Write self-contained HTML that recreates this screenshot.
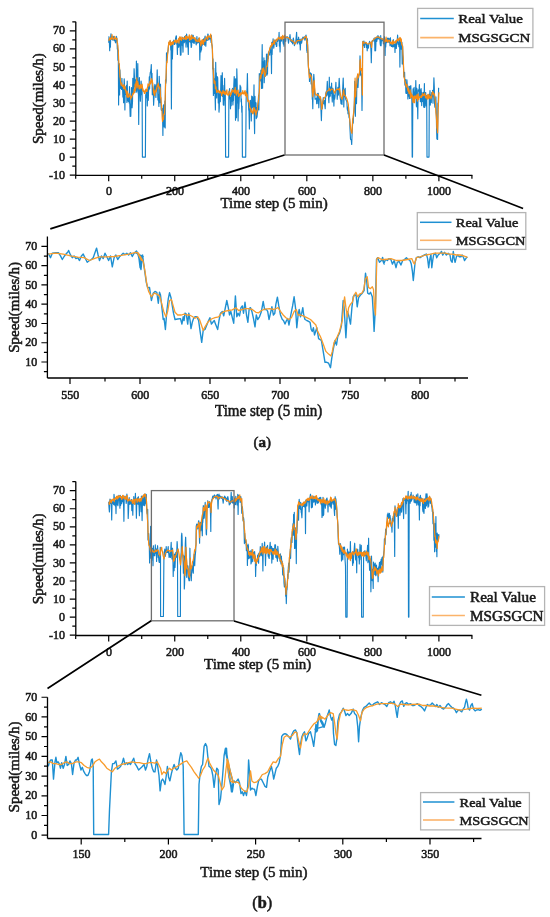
<!DOCTYPE html>
<html><head><meta charset="utf-8"><title>Figure</title>
<style>html,body{margin:0;padding:0;background:#fff;} svg{display:block;} text{fill:#1a1a1a;stroke:#1a1a1a;stroke-width:0.55px;}</style>
</head><body>
<svg width="550" height="917" viewBox="0 0 550 917" style="font-family:'Liberation Serif','Times New Roman',serif">
<rect width="550" height="917" fill="#fff"/>
<polyline points="108.7,42.7 109.0,36.7 109.4,43.0 109.7,50.7 110.0,39.0 110.4,47.2 110.7,36.7 111.0,33.8 111.3,38.1 111.7,39.4 112.0,36.5 112.3,39.1 112.7,36.9 113.0,40.3 113.3,36.3 113.7,39.0 114.0,39.8 114.3,37.3 114.6,40.7 115.0,40.3 115.3,42.0 115.6,42.8 116.0,40.6 116.3,36.4 116.6,37.1 117.0,40.0 117.3,49.1 117.6,45.3 117.9,60.3 118.3,50.2 118.6,105.0 118.9,74.3 119.3,63.7 119.6,95.0 119.9,69.9 120.3,77.7 120.6,83.6 120.9,88.5 121.2,86.0 121.6,89.5 121.9,78.3 122.2,89.0 122.6,89.8 122.9,97.1 123.2,87.2 123.6,102.7 123.9,89.3 124.2,78.8 124.5,85.5 124.9,110.0 125.2,86.7 125.5,89.9 125.9,92.1 126.2,94.3 126.5,85.3 126.9,102.4 127.2,81.1 127.5,93.4 127.9,101.0 128.2,99.3 128.5,101.5 128.8,94.5 129.2,102.9 129.5,86.5 129.8,104.2 130.2,116.4 130.5,104.4 130.8,116.2 131.2,98.1 131.5,87.5 131.8,90.5 132.1,107.8 132.5,101.9 132.8,78.4 133.1,90.9 133.5,93.0 133.8,82.6 134.1,68.7 134.5,77.8 134.8,86.9 135.1,83.6 135.4,79.9 135.8,89.7 136.1,92.4 136.4,61.0 136.8,91.2 137.1,83.8 137.4,83.1 137.8,63.5 138.1,92.9 138.4,87.0 138.7,124.5 139.1,83.3 139.4,77.6 139.7,91.3 140.1,94.0 140.4,101.2 140.7,94.5 141.1,81.1 141.4,85.3 141.7,94.7 142.1,89.4 142.4,157.1 142.7,157.1 143.0,157.1 143.4,157.1 143.7,157.1 144.0,157.1 144.4,157.1 144.7,157.1 145.0,157.1 145.4,157.1 145.7,94.6 146.0,98.1 146.3,90.9 146.7,89.9 147.0,90.2 147.3,105.9 147.7,89.6 148.0,95.4 148.3,100.3 148.7,84.3 149.0,89.8 149.3,76.9 149.6,88.8 150.0,75.4 150.3,72.4 150.6,72.1 151.0,69.2 151.3,64.5 151.6,82.0 152.0,73.3 152.3,94.8 152.6,82.4 152.9,90.8 153.3,91.1 153.6,105.2 153.9,99.3 154.3,93.2 154.6,86.4 154.9,84.3 155.3,92.9 155.6,92.8 155.9,97.5 156.2,85.2 156.6,90.0 156.9,81.2 157.2,69.8 157.6,86.1 157.9,100.0 158.2,94.5 158.6,100.3 158.9,106.5 159.2,76.3 159.6,86.4 159.9,102.6 160.2,85.7 160.5,84.2 160.9,102.8 161.2,109.6 161.5,110.5 161.9,108.9 162.2,109.6 162.5,108.7 162.9,135.5 163.2,108.4 163.5,104.8 163.8,109.2 164.2,126.9 164.5,112.3 164.8,101.2 165.2,128.0 165.5,79.9 165.8,83.5 166.2,80.6 166.5,52.9 166.8,56.4 167.1,56.9 167.5,53.6 167.8,51.7 168.1,50.1 168.5,45.4 168.8,45.3 169.1,42.5 169.5,43.9 169.8,42.2 170.1,40.8 170.4,41.2 170.8,50.0 171.1,47.9 171.4,109.0 171.8,43.6 172.1,46.8 172.4,58.9 172.8,46.8 173.1,42.5 173.4,43.4 173.7,40.2 174.1,41.6 174.4,44.5 174.7,44.2 175.1,43.7 175.4,39.6 175.7,37.8 176.1,36.1 176.4,35.9 176.7,43.8 177.1,45.2 177.4,54.5 177.7,41.1 178.0,45.8 178.4,44.2 178.7,47.3 179.0,45.9 179.4,40.1 179.7,43.5 180.0,38.5 180.4,55.2 180.7,40.7 181.0,55.0 181.3,39.4 181.7,39.7 182.0,45.1 182.3,37.2 182.7,45.9 183.0,52.1 183.3,39.8 183.7,40.0 184.0,41.5 184.3,42.8 184.6,36.6 185.0,41.6 185.3,36.3 185.6,35.7 186.0,47.1 186.3,41.9 186.6,34.1 187.0,38.1 187.3,41.7 187.6,46.9 187.9,39.4 188.3,54.5 188.6,38.4 188.9,37.7 189.3,41.7 189.6,39.2 189.9,38.8 190.3,42.2 190.6,40.2 190.9,42.8 191.2,47.5 191.6,45.8 191.9,34.8 192.2,42.4 192.6,42.0 192.9,40.4 193.2,35.4 193.6,42.9 193.9,37.7 194.2,43.4 194.6,40.2 194.9,39.2 195.2,41.2 195.5,39.1 195.9,43.1 196.2,44.9 196.5,42.8 196.9,36.5 197.2,43.2 197.5,39.8 197.9,41.7 198.2,42.6 198.5,40.4 198.8,38.0 199.2,42.5 199.5,39.9 199.8,60.0 200.2,47.1 200.5,41.0 200.8,52.0 201.2,46.0 201.5,49.9 201.8,41.7 202.1,45.6 202.5,44.2 202.8,40.3 203.1,40.1 203.5,38.8 203.8,41.0 204.1,42.5 204.5,45.2 204.8,37.6 205.1,36.0 205.4,39.5 205.8,46.1 206.1,40.8 206.4,38.1 206.8,40.4 207.1,39.7 207.4,40.3 207.8,34.0 208.1,34.2 208.4,39.1 208.8,40.0 209.1,37.9 209.4,38.9 209.7,38.9 210.1,36.0 210.4,36.2 210.7,38.4 211.1,42.5 211.4,35.6 211.7,43.5 212.1,45.8 212.4,49.2 212.7,68.9 213.0,58.7 213.4,95.5 213.7,68.3 214.0,79.8 214.4,93.5 214.7,78.8 215.0,92.3 215.4,110.0 215.7,62.4 216.0,82.1 216.3,72.8 216.7,98.0 217.0,77.2 217.3,76.7 217.7,77.7 218.0,92.1 218.3,102.9 218.7,93.7 219.0,112.1 219.3,107.7 219.6,91.6 220.0,101.5 220.3,101.7 220.6,93.8 221.0,75.5 221.3,81.3 221.6,93.5 222.0,82.3 222.3,72.7 222.6,96.5 222.9,85.4 223.3,104.8 223.6,96.0 223.9,105.3 224.3,92.2 224.6,78.4 224.9,99.8 225.3,90.9 225.6,157.1 225.9,157.1 226.3,157.1 226.6,157.1 226.9,157.1 227.2,157.1 227.6,157.1 227.9,157.1 228.2,157.1 228.6,157.1 228.9,91.8 229.2,91.6 229.6,88.5 229.9,98.9 230.2,97.1 230.5,108.8 230.9,97.0 231.2,105.7 231.5,94.0 231.9,101.2 232.2,91.5 232.5,88.3 232.9,105.0 233.2,99.5 233.5,100.5 233.8,85.2 234.2,76.5 234.5,84.3 234.8,95.2 235.2,79.0 235.5,120.3 235.8,78.9 236.2,98.4 236.5,117.7 236.8,68.8 237.1,78.9 237.5,102.9 237.8,92.5 238.1,121.0 238.5,94.0 238.8,108.7 239.1,102.0 239.5,92.0 239.8,94.2 240.1,85.2 240.4,95.0 240.8,86.9 241.1,101.8 241.4,98.8 241.8,112.2 242.1,106.0 242.4,157.1 242.8,157.1 243.1,157.1 243.4,157.1 243.8,157.1 244.1,157.1 244.4,157.1 244.7,157.1 245.1,157.1 245.4,157.1 245.7,157.1 246.1,101.7 246.4,91.8 246.7,96.1 247.1,87.0 247.4,73.5 247.7,91.0 248.0,100.1 248.4,102.5 248.7,109.7 249.0,111.2 249.4,129.0 249.7,108.6 250.0,109.8 250.4,100.3 250.7,111.6 251.0,110.7 251.3,120.9 251.7,96.1 252.0,107.4 252.3,96.5 252.7,104.8 253.0,97.8 253.3,112.9 253.7,103.5 254.0,84.9 254.3,120.8 254.6,133.6 255.0,96.4 255.3,108.9 255.6,106.8 256.0,102.7 256.3,118.6 256.6,107.2 257.0,117.3 257.3,113.9 257.6,111.7 258.0,105.2 258.3,100.2 258.6,95.0 258.9,109.9 259.3,73.6 259.6,75.7 259.9,74.1 260.3,80.9 260.6,77.3 260.9,70.2 261.3,70.3 261.6,88.5 261.9,65.0 262.2,44.5 262.6,88.2 262.9,61.6 263.2,67.1 263.6,71.2 263.9,57.9 264.2,82.7 264.6,71.4 264.9,60.6 265.2,75.5 265.5,76.2 265.9,70.0 266.2,73.8 266.5,54.1 266.9,75.3 267.2,56.5 267.5,73.9 267.9,53.8 268.2,58.7 268.5,51.9 268.8,54.4 269.2,53.1 269.5,53.8 269.8,55.2 270.2,47.3 270.5,50.7 270.8,50.3 271.2,53.4 271.5,73.6 271.8,42.3 272.1,54.5 272.5,41.9 272.8,45.3 273.1,38.8 273.5,45.5 273.8,48.1 274.1,44.6 274.5,42.9 274.8,40.5 275.1,40.0 275.5,41.3 275.8,44.5 276.1,43.5 276.4,46.4 276.8,46.2 277.1,39.3 277.4,41.3 277.8,41.3 278.1,40.2 278.4,37.7 278.8,38.8 279.1,32.3 279.4,46.1 279.7,42.3 280.1,52.0 280.4,40.7 280.7,39.0 281.1,39.7 281.4,41.2 281.7,36.9 282.1,39.4 282.4,38.5 282.7,37.6 283.0,41.9 283.4,44.2 283.7,39.3 284.0,46.1 284.4,38.5 284.7,38.6 285.2,37.2 285.7,41.4 286.1,37.2 287.0,36.8 287.6,36.8 288.1,39.7 288.5,43.1 288.9,40.2 289.3,38.0 289.8,36.3 290.0,34.6 290.4,38.9 290.8,41.4 291.3,39.7 291.7,42.3 292.1,41.4 292.6,44.0 293.0,39.7 293.4,38.0 293.8,41.4 294.4,45.7 294.9,44.0 295.3,43.1 295.8,41.4 296.1,38.0 296.6,32.4 296.9,38.9 297.3,44.0 297.7,39.7 298.1,42.3 298.6,37.2 299.0,40.6 299.4,44.0 299.9,39.7 300.3,49.9 300.7,41.4 301.1,38.9 301.6,43.1 302.0,40.6 302.4,38.9 302.9,37.2 303.3,38.5 303.7,37.2 304.1,38.9 304.6,36.8 305.0,40.2 305.4,37.2 305.9,35.5 306.3,38.0 306.5,39.7 306.7,42.3 306.9,50.8 307.1,52.5 307.2,45.7 307.4,39.7 307.6,40.6 305.6,36.3 306.0,35.1 306.3,37.2 306.6,42.3 306.8,50.8 307.1,39.7 307.4,38.9 307.7,47.4 308.0,55.9 308.3,64.4 308.6,69.5 309.1,69.2 309.5,81.4 309.9,74.6 310.4,72.9 310.8,73.8 311.1,84.0 311.4,73.8 311.6,76.3 312.0,88.2 312.3,99.3 312.5,98.5 312.8,108.7 313.1,91.6 313.5,79.7 313.8,74.3 314.1,78.9 314.4,86.5 314.7,93.4 315.1,99.3 315.7,98.8 316.4,98.5 316.7,103.6 317.0,96.8 317.2,100.2 317.4,93.4 317.7,94.2 318.1,103.6 318.3,93.4 318.6,100.2 318.8,107.8 319.1,101.9 319.4,98.5 319.8,96.8 320.2,96.8 320.6,100.2 321.0,110.4 321.4,120.6 321.7,109.5 322.2,108.7 322.6,104.4 323.0,100.2 323.3,97.6 323.7,103.6 324.0,101.9 324.3,100.2 324.6,103.6 325.2,108.7 325.5,100.2 325.8,93.4 326.2,91.6 326.6,95.9 327.3,81.4 327.6,88.2 327.9,95.1 328.2,91.6 328.6,97.6 328.9,102.7 329.3,77.2 329.7,96.8 330.0,93.4 330.3,95.9 330.6,88.2 330.9,86.5 331.2,93.4 331.6,83.1 331.9,95.1 332.3,101.9 332.6,89.1 332.9,88.2 333.2,91.6 333.6,98.5 333.9,106.1 334.2,95.1 334.6,99.3 335.0,96.8 335.4,91.6 335.9,82.3 336.2,89.9 336.6,89.9 336.9,91.6 337.2,99.3 337.6,93.4 337.9,87.4 338.3,95.1 338.6,93.4 338.9,84.8 339.2,78.4 339.6,86.5 339.9,95.1 340.4,99.3 340.7,100.2 341.0,103.6 341.4,100.2 341.7,98.5 342.0,104.4 342.4,95.1 342.8,86.5 343.2,78.0 343.5,88.2 343.8,107.0 344.1,95.1 344.4,89.9 344.7,96.8 345.0,93.4 345.2,88.2 345.4,95.1 345.7,99.3 346.2,100.2 346.6,101.0 346.9,101.9 347.2,108.7 347.5,110.4 347.7,107.0 348.0,113.8 348.5,107.0 349.0,117.2 349.6,118.9 350.0,129.1 350.5,139.3 350.9,139.3 351.3,140.2 351.7,144.4 352.0,135.9 352.4,127.4 352.8,118.9 353.2,123.1 353.5,115.5 353.9,112.1 354.3,105.3 354.7,81.4 355.0,88.2 355.2,101.9 355.4,116.3 355.7,91.6 356.0,95.1 356.5,103.6 356.8,88.2 357.1,78.0 357.4,76.3 357.8,76.3 358.0,87.4 358.4,78.9 358.8,76.3 359.2,74.6 359.7,72.1 360.0,55.9 360.3,64.4 360.5,74.6 360.9,75.5 361.2,73.8 361.6,78.0 361.8,91.6 362.0,110.4 362.3,88.2 362.6,43.1 362.9,41.4 363.3,45.7 363.7,44.0 364.0,41.1 364.4,47.4 364.1,44.0 364.4,46.5 364.7,43.1 365.1,44.0 365.6,42.3 366.0,43.1 366.3,47.4 366.8,44.0 367.2,50.8 367.5,45.7 367.9,44.8 368.4,48.2 368.8,44.0 369.2,43.1 369.6,41.4 370.1,43.1 370.5,44.0 370.8,47.4 371.1,54.2 371.3,62.7 371.5,54.2 371.7,45.7 372.0,41.4 372.4,40.6 372.9,41.4 373.5,39.7 373.9,38.9 374.4,38.0 374.7,42.3 374.9,50.8 375.1,44.0 375.4,38.0 375.6,50.8 375.9,44.0 376.1,38.9 376.5,37.2 376.8,41.4 377.1,38.9 377.6,37.2 377.9,35.5 378.2,38.9 378.6,36.3 379.1,38.9 379.5,37.2 379.9,38.9 380.2,44.0 380.5,45.7 380.7,35.5 380.9,42.3 381.1,45.7 381.4,40.6 381.8,38.9 382.1,40.6 382.5,40.6 382.8,38.9 383.2,41.4 383.4,44.0 383.7,42.3 384.0,40.6 384.1,39.6 384.4,36.7 384.7,39.6 385.1,55.5 385.4,40.6 385.7,46.9 386.1,39.4 386.4,40.2 386.7,42.7 387.1,39.2 387.4,38.2 387.7,38.3 388.0,40.4 388.4,38.2 388.7,42.1 389.0,42.5 389.4,38.7 389.7,39.7 390.0,45.7 390.4,37.7 390.7,41.9 391.0,43.2 391.4,46.5 391.7,46.4 392.0,44.8 392.3,46.1 392.7,47.0 393.0,46.3 393.3,39.5 393.7,46.6 394.0,46.1 394.3,44.8 394.7,44.2 395.0,52.5 395.3,43.1 395.6,42.1 396.0,40.8 396.3,48.4 396.6,45.2 397.0,42.7 397.3,39.9 397.6,35.1 398.0,41.4 398.3,44.5 398.6,42.9 398.9,46.6 399.3,44.8 399.6,39.9 399.9,67.1 400.3,39.9 400.6,40.6 400.9,41.0 401.3,49.2 401.6,43.7 401.9,42.3 402.2,64.1 402.6,46.5 402.9,55.5 403.2,59.6 403.6,70.3 403.9,76.8 404.2,76.7 404.6,72.3 404.9,85.1 405.2,79.3 405.5,79.8 405.9,93.2 406.2,84.4 406.5,93.5 406.9,79.7 407.2,84.8 407.5,88.6 407.9,99.0 408.2,89.2 408.5,96.2 408.9,86.2 409.2,92.9 409.5,98.5 409.8,86.3 410.2,88.1 410.5,98.0 410.8,85.6 411.2,96.5 411.5,97.2 411.8,95.0 412.2,157.1 412.5,157.1 412.8,100.1 413.1,88.8 413.5,88.9 413.8,101.2 414.1,87.4 414.5,99.0 414.8,95.6 415.1,91.8 415.5,95.9 415.8,80.5 416.1,96.1 416.4,106.3 416.8,88.2 417.1,107.2 417.4,99.6 417.8,118.8 418.1,89.9 418.4,91.1 418.8,91.2 419.1,89.8 419.4,84.5 419.7,96.9 420.1,89.7 420.4,101.7 420.7,98.8 421.1,88.5 421.4,93.2 421.7,105.6 422.1,93.2 422.4,97.0 422.7,101.5 423.1,92.4 423.4,98.5 423.7,107.1 424.0,104.0 424.4,83.5 424.7,107.4 425.0,95.1 425.4,92.5 425.7,92.5 426.0,106.0 426.4,99.1 426.7,95.5 427.0,157.1 427.3,157.1 427.7,157.1 428.0,157.1 428.3,157.1 428.7,157.1 429.0,157.1 429.3,94.1 429.7,96.3 430.0,90.6 430.3,105.1 430.6,94.8 431.0,96.3 431.3,102.6 431.6,92.7 432.0,93.7 432.3,96.6 432.6,90.4 433.0,103.2 433.3,93.3 433.6,90.5 433.9,77.8 434.3,87.2 434.6,104.2 434.9,107.1 435.3,99.2 435.6,103.2 435.9,96.9 436.3,113.3 436.6,129.7 436.9,139.0 437.2,134.2 437.6,139.5 437.9,103.0 438.2,106.2 438.6,88.2 438.9,88.7" fill="none" stroke="#1682c9" stroke-width="1.15" stroke-linejoin="round"/>
<polyline points="108.7,40.9 109.0,40.2 109.4,39.0 109.7,37.9 110.0,38.7 110.4,39.3 110.7,38.1 111.0,39.4 111.3,38.2 111.7,38.8 112.0,34.6 112.3,36.9 112.7,38.9 113.0,39.0 113.3,38.3 113.7,39.7 114.0,38.5 114.3,38.4 114.6,36.3 115.0,37.9 115.3,38.3 115.6,39.1 116.0,39.1 116.3,38.0 116.6,38.4 117.0,38.5 117.3,43.2 117.6,43.5 117.9,47.0 118.3,50.6 118.6,58.4 118.9,63.5 119.3,65.1 119.6,69.2 119.9,76.6 120.3,78.3 120.6,82.4 120.9,84.3 121.2,85.3 121.6,82.8 121.9,84.4 122.2,85.8 122.6,86.4 122.9,85.3 123.2,86.1 123.6,88.7 123.9,84.6 124.2,87.8 124.5,88.8 124.9,86.7 125.2,88.0 125.5,90.6 125.9,90.0 126.2,93.5 126.5,93.3 126.9,96.7 127.2,91.0 127.5,97.2 127.9,93.1 128.2,96.3 128.5,97.2 128.8,96.3 129.2,96.0 129.5,95.7 129.8,93.9 130.2,96.8 130.5,96.2 130.8,99.2 131.2,96.4 131.5,96.8 131.8,97.2 132.1,95.9 132.5,95.2 132.8,94.0 133.1,93.0 133.5,94.0 133.8,93.4 134.1,89.4 134.5,92.5 134.8,89.2 135.1,84.0 135.4,90.4 135.8,85.4 136.1,81.6 136.4,84.9 136.8,77.9 137.1,88.0 137.4,81.4 137.8,81.8 138.1,83.6 138.4,86.3 138.7,85.9 139.1,88.9 139.4,85.6 139.7,88.9 140.1,87.1 140.4,84.6 140.7,88.2 141.1,86.6 141.4,85.4 141.7,87.9 142.1,84.0 142.4,86.3 142.7,90.6 143.0,88.8 143.4,91.0 143.7,91.7 144.0,91.2 144.4,93.5 144.7,90.8 145.0,93.4 145.4,89.9 145.7,91.3 146.0,89.2 146.3,91.3 146.7,90.8 147.0,91.5 147.3,87.9 147.7,86.6 148.0,83.8 148.3,84.7 148.7,85.9 149.0,86.0 149.3,84.3 149.6,84.4 150.0,81.0 150.3,81.3 150.6,83.9 151.0,82.9 151.3,78.6 151.6,79.8 152.0,81.2 152.3,80.4 152.6,85.0 152.9,86.5 153.3,88.6 153.6,93.1 153.9,89.7 154.3,95.2 154.6,95.4 154.9,94.6 155.3,90.9 155.6,91.2 155.9,89.9 156.2,91.9 156.6,87.9 156.9,89.3 157.2,85.0 157.6,85.2 157.9,86.3 158.2,83.0 158.6,86.2 158.9,86.5 159.2,87.8 159.6,88.8 159.9,87.2 160.2,89.6 160.5,97.9 160.9,97.6 161.2,102.6 161.5,105.7 161.9,110.6 162.2,117.6 162.5,121.5 162.9,117.8 163.2,118.6 163.5,119.7 163.8,114.5 164.2,113.8 164.5,114.5 164.8,108.1 165.2,98.9 165.5,87.6 165.8,80.3 166.2,72.7 166.5,65.5 166.8,61.3 167.1,62.6 167.5,55.7 167.8,52.8 168.1,49.7 168.5,45.3 168.8,42.0 169.1,42.5 169.5,44.3 169.8,43.3 170.1,40.4 170.4,44.6 170.8,45.7 171.1,43.2 171.4,42.6 171.8,42.6 172.1,44.5 172.4,41.6 172.8,43.7 173.1,44.0 173.4,43.1 173.7,42.4 174.1,41.1 174.4,41.1 174.7,41.7 175.1,40.4 175.4,41.3 175.7,40.1 176.1,42.8 176.4,42.9 176.7,39.8 177.1,42.4 177.4,40.9 177.7,40.5 178.0,40.9 178.4,40.7 178.7,38.3 179.0,43.1 179.4,38.7 179.7,36.8 180.0,39.5 180.4,39.4 180.7,38.4 181.0,36.9 181.3,40.5 181.7,38.8 182.0,39.0 182.3,38.0 182.7,38.3 183.0,37.6 183.3,38.8 183.7,38.1 184.0,39.0 184.3,38.9 184.6,38.2 185.0,38.1 185.3,39.4 185.6,35.9 186.0,38.0 186.3,39.5 186.6,36.3 187.0,38.6 187.3,36.9 187.6,37.5 187.9,37.1 188.3,37.2 188.6,38.1 188.9,37.2 189.3,34.8 189.6,40.3 189.9,37.5 190.3,37.1 190.6,39.1 190.9,39.6 191.2,35.3 191.6,38.6 191.9,35.6 192.2,37.6 192.6,38.3 192.9,37.9 193.2,37.9 193.6,37.3 193.9,38.3 194.2,38.8 194.6,38.9 194.9,37.6 195.2,38.4 195.5,40.9 195.9,40.7 196.2,39.6 196.5,41.0 196.9,40.9 197.2,41.8 197.5,41.1 197.9,40.5 198.2,39.9 198.5,41.4 198.8,38.9 199.2,41.8 199.5,37.8 199.8,40.7 200.2,41.5 200.5,43.0 200.8,46.0 201.2,42.8 201.5,42.4 201.8,40.0 202.1,43.9 202.5,39.6 202.8,42.1 203.1,40.6 203.5,44.5 203.8,40.9 204.1,41.3 204.5,39.7 204.8,40.1 205.1,41.3 205.4,38.4 205.8,38.3 206.1,38.1 206.4,37.3 206.8,36.8 207.1,38.0 207.4,39.4 207.8,39.2 208.1,35.5 208.4,36.0 208.8,36.5 209.1,36.9 209.4,36.1 209.7,36.1 210.1,36.8 210.4,37.5 210.7,34.1 211.1,36.8 211.4,38.4 211.7,42.9 212.1,45.8 212.4,49.2 212.7,57.4 213.0,67.7 213.4,73.1 213.7,77.7 214.0,83.1 214.4,80.6 214.7,83.7 215.0,81.4 215.4,88.6 215.7,88.1 216.0,86.9 216.3,89.6 216.7,92.3 217.0,92.1 217.3,90.9 217.7,91.1 218.0,92.1 218.3,90.2 218.7,90.3 219.0,91.7 219.3,92.3 219.6,92.9 220.0,91.6 220.3,91.0 220.6,92.7 221.0,92.1 221.3,93.6 221.6,95.7 222.0,95.0 222.3,92.0 222.6,92.6 222.9,90.7 223.3,93.5 223.6,91.9 223.9,91.0 224.3,91.5 224.6,94.3 224.9,93.4 225.3,92.7 225.6,94.6 225.9,91.9 226.3,91.1 226.6,94.0 226.9,89.8 227.2,94.1 227.6,94.2 227.9,94.5 228.2,95.6 228.6,93.7 228.9,94.3 229.2,91.2 229.6,92.8 229.9,92.7 230.2,93.9 230.5,95.8 230.9,93.2 231.2,94.4 231.5,91.0 231.9,92.6 232.2,89.4 232.5,91.0 232.9,90.7 233.2,91.7 233.5,91.6 233.8,90.7 234.2,90.2 234.5,93.2 234.8,91.2 235.2,87.4 235.5,92.4 235.8,92.9 236.2,93.8 236.5,95.2 236.8,90.6 237.1,93.1 237.5,93.1 237.8,90.7 238.1,90.0 238.5,96.5 238.8,93.5 239.1,94.7 239.5,95.5 239.8,95.3 240.1,96.0 240.4,92.9 240.8,94.4 241.1,94.7 241.4,92.8 241.8,93.3 242.1,93.8 242.4,93.7 242.8,90.7 243.1,92.5 243.4,93.2 243.8,94.1 244.1,92.7 244.4,93.6 244.7,91.1 245.1,90.6 245.4,95.6 245.7,92.7 246.1,92.4 246.4,94.1 246.7,96.9 247.1,94.0 247.4,98.7 247.7,100.8 248.0,101.7 248.4,100.9 248.7,100.2 249.0,100.9 249.4,103.6 249.7,107.1 250.0,107.2 250.4,108.6 250.7,108.3 251.0,112.2 251.3,109.7 251.7,109.8 252.0,112.2 252.3,111.8 252.7,113.6 253.0,113.9 253.3,111.8 253.7,107.9 254.0,107.4 254.3,110.6 254.6,108.6 255.0,112.3 255.3,110.0 255.6,112.9 256.0,115.1 256.3,111.2 256.6,112.3 257.0,111.0 257.3,110.3 257.6,105.5 258.0,104.0 258.3,101.6 258.6,99.9 258.9,94.2 259.3,92.6 259.6,87.6 259.9,78.6 260.3,75.0 260.6,75.8 260.9,78.4 261.3,75.2 261.6,71.9 261.9,71.8 262.2,68.7 262.6,73.6 262.9,69.6 263.2,71.6 263.6,67.8 263.9,70.7 264.2,69.9 264.6,74.1 264.9,76.7 265.2,75.7 265.5,73.5 265.9,72.9 266.2,67.6 266.5,66.0 266.9,66.4 267.2,66.5 267.5,62.5 267.9,61.2 268.2,55.9 268.5,55.0 268.8,52.2 269.2,50.7 269.5,50.1 269.8,48.0 270.2,48.1 270.5,45.9 270.8,45.9 271.2,46.7 271.5,45.8 271.8,42.8 272.1,45.5 272.5,44.9 272.8,43.6 273.1,43.7 273.5,43.1 273.8,41.6 274.1,39.9 274.5,44.1 274.8,41.7 275.1,41.4 275.5,41.3 275.8,41.2 276.1,41.1 276.4,39.1 276.8,40.6 277.1,39.9 277.4,39.4 277.8,38.9 278.1,38.9 278.4,37.1 278.8,38.2 279.1,37.8 279.4,38.0 279.7,39.1 280.1,38.8 280.4,38.9 280.7,37.2 281.1,38.3 281.4,38.6 281.7,37.0 282.1,36.7 282.4,39.7 282.7,35.4 283.0,37.6 283.4,37.8 283.7,36.4 284.0,37.7 284.4,38.6 284.7,35.2 285.2,38.0 287.0,37.2 288.7,38.0 290.4,39.7 292.1,40.9 293.6,41.4 294.9,44.0 296.0,42.3 297.3,40.6 299.0,40.6 300.7,40.2 302.4,39.2 304.1,38.0 305.9,36.3 306.5,37.2 307.1,44.0 306.3,37.2 306.9,40.6 307.6,44.8 308.0,54.2 308.4,66.1 308.9,72.9 309.5,78.0 310.1,74.6 310.8,75.5 311.4,77.2 311.9,83.1 312.4,91.6 312.9,96.8 313.4,91.6 313.8,81.4 314.2,80.6 314.6,86.5 315.1,92.5 315.7,95.1 316.6,95.1 317.2,94.2 317.9,95.1 318.5,95.1 319.1,96.4 319.8,98.1 320.4,96.8 320.9,99.3 321.3,104.4 321.7,109.5 322.2,106.1 322.8,101.9 323.7,98.8 324.5,97.6 325.4,96.8 326.0,93.4 326.7,91.6 327.7,90.8 328.6,90.3 329.4,88.2 330.1,90.8 330.9,89.9 331.6,89.1 332.4,89.1 333.3,89.9 334.2,92.5 334.8,93.0 335.4,90.8 336.3,89.6 337.4,89.1 338.4,89.9 339.4,88.2 339.9,91.6 340.6,95.1 341.2,97.6 341.9,99.3 342.5,97.6 343.2,91.6 343.7,89.9 344.1,95.1 344.7,95.1 345.3,95.9 346.2,97.6 347.0,99.3 347.7,101.9 348.3,104.4 348.7,110.4 349.4,115.5 350.0,122.3 350.7,129.1 351.3,131.7 351.9,133.4 352.2,129.1 352.6,120.6 353.2,116.3 353.9,110.4 354.5,100.2 354.9,84.8 355.1,78.0 355.4,88.2 355.7,96.8 356.0,88.2 356.5,84.8 356.9,83.1 357.3,76.3 357.7,73.8 358.2,78.0 358.6,75.5 359.2,74.6 359.6,71.2 360.0,61.0 360.4,59.3 360.7,69.5 361.2,70.4 361.6,68.7 361.9,71.2 362.2,88.2 362.4,95.1 362.7,42.3 363.1,41.4 363.7,43.1 364.7,43.1 366.0,42.3 367.3,44.0 368.6,44.0 369.9,43.1 370.9,42.3 371.3,45.7 371.6,47.4 372.0,41.4 372.9,40.6 374.1,38.9 375.4,38.0 376.3,37.2 377.6,37.2 378.9,37.2 379.7,38.0 380.6,38.0 381.4,38.9 382.3,38.9 383.2,39.7 383.8,40.6 384.0,41.4 384.1,42.7 384.4,41.2 384.7,39.8 385.1,42.0 385.4,40.5 385.7,39.6 386.1,37.0 386.4,41.4 386.7,40.5 387.1,39.7 387.4,40.6 387.7,42.4 388.0,40.6 388.4,41.1 388.7,40.8 389.0,40.1 389.4,40.5 389.7,41.4 390.0,41.7 390.4,43.6 390.7,42.6 391.0,42.3 391.4,43.2 391.7,42.8 392.0,44.1 392.3,41.3 392.7,40.7 393.0,44.0 393.3,43.0 393.7,43.6 394.0,41.4 394.3,42.2 394.7,42.4 395.0,42.6 395.3,41.9 395.6,43.1 396.0,40.7 396.3,42.2 396.6,40.4 397.0,40.6 397.3,39.2 397.6,40.3 398.0,38.8 398.3,41.0 398.6,38.8 398.9,39.6 399.3,38.8 399.6,38.7 399.9,37.4 400.3,40.9 400.6,38.2 400.9,41.5 401.3,39.1 401.6,44.1 401.9,43.8 402.2,45.7 402.6,45.8 402.9,54.2 403.2,57.7 403.6,67.6 403.9,76.3 404.2,77.8 404.6,79.2 404.9,82.0 405.2,81.2 405.5,84.8 405.9,85.3 406.2,86.8 406.5,86.1 406.9,84.0 407.2,87.4 407.5,88.3 407.9,90.5 408.2,91.4 408.5,88.0 408.9,93.3 409.2,93.6 409.5,92.8 409.8,93.8 410.2,89.8 410.5,98.0 410.8,93.4 411.2,93.1 411.5,97.0 411.8,97.1 412.2,96.1 412.5,95.0 412.8,100.6 413.1,102.7 413.5,98.0 413.8,96.6 414.1,99.7 414.5,102.7 414.8,95.8 415.1,98.5 415.5,96.0 415.8,98.0 416.1,98.5 416.4,98.5 416.8,94.9 417.1,94.9 417.4,101.2 417.8,98.9 418.1,93.9 418.4,97.7 418.8,99.4 419.1,96.8 419.4,96.9 419.7,96.8 420.1,97.4 420.4,96.9 420.7,97.1 421.1,95.6 421.4,97.5 421.7,96.5 422.1,96.1 422.4,93.4 422.7,94.9 423.1,95.7 423.4,94.6 423.7,95.1 424.0,94.1 424.4,95.3 424.7,93.2 425.0,94.3 425.4,97.0 425.7,97.9 426.0,95.6 426.4,95.9 426.7,96.7 427.0,98.8 427.3,99.1 427.7,94.9 428.0,94.3 428.3,94.6 428.7,98.7 429.0,94.9 429.3,98.0 429.7,96.4 430.0,95.9 430.3,97.6 430.6,96.7 431.0,98.9 431.3,96.3 431.6,97.5 432.0,93.2 432.3,93.5 432.6,91.6 433.0,92.3 433.3,94.1 433.6,93.0 433.9,95.0 434.3,93.8 434.6,95.0 434.9,98.0 435.3,100.9 435.6,106.4 435.9,112.7 436.3,116.1 436.6,120.3 436.9,128.1 437.2,128.8 437.6,132.8 437.9,122.0 438.2,109.4 438.6,99.3 438.9,92.2" fill="none" stroke="#f68b14" stroke-width="1.2" stroke-linejoin="round"/>
<path d="M75.8,21.8 V175.3 M75.8,175.3 H472.4" stroke="#000" stroke-width="1.3" fill="none"/>
<path d="M108.70,175.3 v6 M174.74,175.3 v6 M240.78,175.3 v6 M306.82,175.3 v6 M372.86,175.3 v6 M438.90,175.3 v6 M75.68,175.3 v3.5 M141.72,175.3 v3.5 M207.76,175.3 v3.5 M273.80,175.3 v3.5 M339.84,175.3 v3.5 M405.88,175.3 v3.5 M471.92,175.3 v3.5 M75.8,175.13 h-6 M75.8,157.10 h-6 M75.8,139.06 h-6 M75.8,121.03 h-6 M75.8,102.99 h-6 M75.8,84.96 h-6 M75.8,66.92 h-6 M75.8,48.89 h-6 M75.8,30.85 h-6 M75.8,166.12 h-3.5 M75.8,148.08 h-3.5 M75.8,130.05 h-3.5 M75.8,112.01 h-3.5 M75.8,93.98 h-3.5 M75.8,75.94 h-3.5 M75.8,57.91 h-3.5 M75.8,39.87 h-3.5 M75.8,21.84 h-3.5" stroke="#000" stroke-width="1.2" fill="none"/>
<text transform="translate(108.90,195.10) scale(1,1.05)" text-anchor="middle" font-size="12">0</text>
<text transform="translate(174.94,195.10) scale(1,1.05)" text-anchor="middle" font-size="12">200</text>
<text transform="translate(240.98,195.10) scale(1,1.05)" text-anchor="middle" font-size="12">400</text>
<text transform="translate(307.02,195.10) scale(1,1.05)" text-anchor="middle" font-size="12">600</text>
<text transform="translate(373.06,195.10) scale(1,1.05)" text-anchor="middle" font-size="12">800</text>
<text transform="translate(439.10,195.10) scale(1,1.05)" text-anchor="middle" font-size="12">1000</text>
<text transform="translate(65.00,178.73) scale(1,1.05)" text-anchor="end" font-size="12">-10</text>
<text transform="translate(65.00,160.70) scale(1,1.05)" text-anchor="end" font-size="12">0</text>
<text transform="translate(65.00,142.66) scale(1,1.05)" text-anchor="end" font-size="12">10</text>
<text transform="translate(65.00,124.63) scale(1,1.05)" text-anchor="end" font-size="12">20</text>
<text transform="translate(65.00,106.59) scale(1,1.05)" text-anchor="end" font-size="12">30</text>
<text transform="translate(65.00,88.56) scale(1,1.05)" text-anchor="end" font-size="12">40</text>
<text transform="translate(65.00,70.52) scale(1,1.05)" text-anchor="end" font-size="12">50</text>
<text transform="translate(65.00,52.49) scale(1,1.05)" text-anchor="end" font-size="12">60</text>
<text transform="translate(65.00,34.45) scale(1,1.05)" text-anchor="end" font-size="12">70</text>
<rect x="285" y="22.2" width="99" height="132.8" fill="none" stroke="#6e6e6e" stroke-width="1.3"/>
<rect x="417.6" y="8.4" width="115.29999999999995" height="39.2" fill="#fff" stroke="#b4b4b4" stroke-width="1.3"/>
<path d="M420.2,18.6 H453.8" stroke="#1e90d2" stroke-width="1.5"/>
<path d="M420.2,37.6 H453.8" stroke="#fbb36a" stroke-width="1.6"/>
<text transform="translate(458.30,23.10) scale(1,0.9)" font-size="14.9">Real Value</text>
<text transform="translate(458.30,42.10) scale(1,0.9)" font-size="14.9">MSGSGCN</text>
<text transform="translate(42.9,98.6) rotate(-90)" text-anchor="middle" font-size="15">Speed(miles/h)</text>
<text transform="translate(274.00,208.20) scale(1,0.99)" text-anchor="middle" font-size="15">Time step (5 min)</text>
<path d="M284.5,155 L50.3,228.9 M384,155 L523.1,208.5" stroke="#000" stroke-width="1.7" fill="none"/>
<polyline points="48.3,253.2 50.5,257.7 52.3,253.2 55.9,252.8 58.6,252.8 60.5,255.9 62.3,259.5 64.1,256.5 65.9,254.1 67.7,252.3 68.6,250.5 70.5,255.0 72.3,257.7 74.1,255.9 75.9,258.6 77.7,257.7 79.5,260.5 81.4,255.9 83.2,254.1 85.0,257.7 87.2,262.3 89.5,260.5 91.4,259.5 93.2,257.7 94.5,254.1 96.6,248.1 98.1,255.0 99.5,260.5 101.4,255.9 103.2,258.6 105.0,253.2 106.8,256.8 108.6,260.5 110.5,255.9 112.3,266.8 114.1,257.7 115.9,255.0 117.7,259.5 119.5,256.8 121.4,255.0 123.2,253.2 125.0,254.6 126.8,253.2 128.6,255.0 130.5,252.8 132.3,256.5 134.1,253.2 135.9,251.4 137.7,254.1 138.6,255.9 139.5,258.6 140.5,267.7 141.0,269.5 141.7,262.3 142.5,255.9 143.2,256.8 135.0,252.3 136.5,251.0 137.7,253.2 139.0,258.6 140.1,267.7 141.4,255.9 142.6,255.0 143.7,264.1 145.0,273.2 146.3,282.3 147.7,287.7 149.5,287.4 151.4,300.5 153.2,293.2 155.0,291.4 156.8,292.3 158.3,303.2 159.5,292.3 160.5,295.0 161.9,307.7 163.2,319.5 164.1,318.6 165.4,329.5 166.8,311.4 168.3,298.6 169.5,292.8 171.0,297.7 172.3,305.9 173.5,313.2 175.0,319.5 177.7,319.0 180.5,318.6 181.9,324.1 183.2,316.8 184.1,320.5 185.0,313.2 186.3,314.1 187.7,324.1 188.8,313.2 190.1,320.5 191.0,328.6 192.3,322.3 193.5,318.6 195.0,316.8 196.8,316.8 198.6,320.5 200.1,331.4 201.7,342.3 203.2,330.5 205.0,329.5 206.8,325.0 208.6,320.5 209.9,317.7 211.4,324.1 212.8,322.3 214.3,320.5 215.5,324.1 217.7,329.5 219.0,320.5 220.5,313.2 222.3,311.4 223.7,315.9 226.8,300.5 228.3,307.7 229.5,315.0 230.8,311.4 232.3,317.7 233.7,323.2 235.4,295.9 236.8,316.8 238.1,313.2 239.5,315.9 241.0,307.7 242.3,305.9 243.5,313.2 245.0,302.3 246.5,315.0 247.9,322.3 249.2,308.6 250.5,307.7 251.9,311.4 253.5,318.6 255.0,326.8 256.3,315.0 257.7,319.5 259.5,316.8 261.4,311.4 263.2,301.4 264.6,309.5 266.5,309.5 267.7,311.4 269.0,319.5 270.5,313.2 271.9,306.8 273.4,315.0 274.8,313.2 275.9,304.1 277.4,297.2 278.8,305.9 280.5,315.0 282.3,319.5 283.5,320.5 285.0,324.1 286.5,320.5 287.7,318.6 289.0,325.0 290.8,315.0 292.6,305.9 294.1,296.8 295.5,307.7 296.8,327.7 298.1,315.0 299.2,309.5 300.5,316.8 301.7,313.2 302.8,307.7 303.7,315.0 305.0,319.5 306.8,320.5 308.6,321.4 310.1,322.3 311.2,329.5 312.3,331.4 313.4,327.7 314.5,335.0 316.8,327.7 318.6,338.6 321.4,340.5 323.2,351.4 325.0,362.3 326.8,362.3 328.6,363.2 330.5,367.7 331.7,358.6 333.2,349.5 335.0,340.5 336.5,345.0 337.7,336.8 339.5,333.2 341.4,325.9 343.2,300.5 344.1,307.7 345.0,322.3 345.9,337.7 347.4,311.4 348.6,315.0 350.5,324.1 351.9,307.7 353.2,296.8 354.6,295.0 356.1,295.0 357.2,306.8 358.6,297.7 360.5,295.0 362.3,293.2 364.1,290.5 365.5,273.2 366.8,282.3 367.7,293.2 369.2,294.1 370.5,292.3 372.3,296.8 373.2,311.4 374.1,331.4 375.4,307.7 376.5,259.5 377.7,257.7 379.5,262.3 381.4,260.5 382.6,257.4 384.1,264.1 382.7,260.5 384.0,263.2 385.5,259.5 387.3,260.5 389.1,258.6 390.9,259.5 392.4,264.1 394.2,260.5 396.0,267.7 397.3,262.3 399.1,261.4 400.9,265.0 402.7,260.5 404.5,259.5 406.4,257.7 408.2,259.5 410.0,260.5 411.3,264.1 412.4,271.4 413.3,280.5 414.2,271.4 415.1,262.3 416.4,257.7 418.2,256.8 420.0,257.7 422.7,255.9 424.5,255.0 426.4,254.1 427.6,258.6 428.7,267.7 429.6,260.5 430.9,254.1 431.8,267.7 432.7,260.5 433.6,255.0 435.5,253.2 436.7,257.7 438.2,255.0 440.0,253.2 441.5,251.4 442.7,255.0 444.5,252.3 446.4,255.0 448.2,253.2 450.0,255.0 450.9,260.5 452.2,262.3 453.3,251.4 454.2,258.6 455.1,262.3 456.4,256.8 457.8,255.0 459.3,256.8 460.9,256.8 462.2,255.0 463.6,257.7 464.5,260.5 465.8,258.6 467.3,256.8" fill="none" stroke="#1e90d2" stroke-width="1.4" stroke-linejoin="round"/>
<polyline points="48.3,254.1 55.9,253.2 63.2,254.1 70.5,255.9 77.7,257.2 84.1,257.7 89.5,260.5 94.1,258.6 99.5,256.8 106.8,256.8 114.1,256.5 121.4,255.4 128.6,254.1 135.9,252.3 138.6,253.2 141.4,260.5 137.7,253.2 140.5,256.8 143.2,261.4 145.0,271.4 146.8,284.1 148.6,291.4 151.4,296.8 154.1,293.2 156.8,294.1 159.5,295.9 161.4,302.3 163.7,311.4 165.9,316.8 167.7,311.4 169.5,300.5 171.4,299.5 173.2,305.9 175.0,312.3 177.7,315.0 181.4,315.0 184.1,314.1 186.8,315.0 189.5,315.0 192.3,316.5 195.0,318.3 197.7,316.8 199.5,319.5 201.4,325.0 203.2,330.5 205.0,326.8 207.7,322.3 211.4,319.0 215.0,317.7 218.6,316.8 221.4,313.2 224.1,311.4 228.6,310.5 232.3,309.9 235.9,307.7 238.6,310.5 242.3,309.5 245.0,308.6 248.6,308.6 252.3,309.5 255.9,312.3 258.6,312.8 261.4,310.5 265.0,309.2 269.5,308.6 274.1,309.5 278.1,307.7 280.5,311.4 283.2,315.0 285.9,317.7 288.6,319.5 291.4,317.7 294.1,311.4 296.3,309.5 298.1,315.0 300.5,315.0 303.2,315.9 306.8,317.7 310.5,319.5 313.2,322.3 315.9,325.0 317.7,331.4 320.5,336.8 323.2,344.1 325.9,351.4 328.6,354.1 331.0,355.9 332.3,351.4 334.1,342.3 336.8,337.7 339.5,331.4 342.3,320.5 343.7,304.1 344.6,296.8 345.9,307.7 347.4,316.8 348.6,307.7 350.5,304.1 352.3,302.3 354.1,295.0 355.9,292.3 357.7,296.8 359.5,294.1 361.9,293.2 363.7,289.5 365.5,278.6 367.2,276.8 368.6,287.7 370.5,288.6 372.3,286.8 373.5,289.5 374.6,307.7 375.5,315.0 376.8,258.6 378.6,257.7 381.4,259.5 385.5,259.5 390.9,258.6 396.4,260.5 401.8,260.5 407.3,259.5 411.8,258.6 413.3,262.3 414.5,264.1 416.4,257.7 420.0,256.8 425.5,255.0 430.9,254.1 434.5,253.2 440.0,253.2 445.5,253.2 449.1,254.1 452.7,254.1 456.4,255.0 460.0,255.0 463.6,255.9 466.4,256.8 467.3,257.7" fill="none" stroke="#f89c2c" stroke-width="1.3" stroke-linejoin="round"/>
<path d="M47.4,236.6 V378.0 M47.4,378.0 H468.0" stroke="#000" stroke-width="1.3" fill="none"/>
<path d="M70.00,378.0 v6 M140.00,378.0 v6 M210.00,378.0 v6 M280.00,378.0 v6 M350.00,378.0 v6 M420.00,378.0 v6 M105.00,378.0 v3.5 M175.00,378.0 v3.5 M245.00,378.0 v3.5 M315.00,378.0 v3.5 M385.00,378.0 v3.5 M455.00,378.0 v3.5 M47.4,362.00 h-6 M47.4,342.74 h-6 M47.4,323.48 h-6 M47.4,304.22 h-6 M47.4,284.96 h-6 M47.4,265.70 h-6 M47.4,246.44 h-6 M47.4,371.63 h-3.5 M47.4,352.37 h-3.5 M47.4,333.11 h-3.5 M47.4,313.85 h-3.5 M47.4,294.59 h-3.5 M47.4,275.33 h-3.5 M47.4,256.07 h-3.5" stroke="#000" stroke-width="1.2" fill="none"/>
<text transform="translate(70.20,399.40) scale(1,1.1)" text-anchor="middle" font-size="12">550</text>
<text transform="translate(140.20,399.40) scale(1,1.1)" text-anchor="middle" font-size="12">600</text>
<text transform="translate(210.20,399.40) scale(1,1.1)" text-anchor="middle" font-size="12">650</text>
<text transform="translate(280.20,399.40) scale(1,1.1)" text-anchor="middle" font-size="12">700</text>
<text transform="translate(350.20,399.40) scale(1,1.1)" text-anchor="middle" font-size="12">750</text>
<text transform="translate(420.20,399.40) scale(1,1.1)" text-anchor="middle" font-size="12">800</text>
<text transform="translate(37.20,365.60) scale(1,1.1)" text-anchor="end" font-size="12">10</text>
<text transform="translate(37.20,346.34) scale(1,1.1)" text-anchor="end" font-size="12">20</text>
<text transform="translate(37.20,327.08) scale(1,1.1)" text-anchor="end" font-size="12">30</text>
<text transform="translate(37.20,307.82) scale(1,1.1)" text-anchor="end" font-size="12">40</text>
<text transform="translate(37.20,288.56) scale(1,1.1)" text-anchor="end" font-size="12">50</text>
<text transform="translate(37.20,269.30) scale(1,1.1)" text-anchor="end" font-size="12">60</text>
<text transform="translate(37.20,250.04) scale(1,1.1)" text-anchor="end" font-size="12">70</text>
<rect x="417.3" y="212.6" width="108.49999999999994" height="36.80000000000001" fill="#fff" stroke="#b4b4b4" stroke-width="1.3"/>
<path d="M420.0,222.3 H451.5" stroke="#1e90d2" stroke-width="1.5"/>
<path d="M420.0,240.3 H451.5" stroke="#fbb36a" stroke-width="1.6"/>
<text transform="translate(455.80,227.20) scale(1,0.9)" font-size="14.4">Real Value</text>
<text transform="translate(455.80,245.10) scale(1,0.9)" font-size="14.4">MSGSGCN</text>
<text transform="translate(19,307.4) rotate(-90)" text-anchor="middle" font-size="15">Speed(miles/h)</text>
<text transform="translate(268.70,416.30) scale(1,1.087)" text-anchor="middle" font-size="15">Time step (5 min)</text>
<text transform="translate(262.30,447.20) scale(1,1.02)" text-anchor="middle" font-size="15">(<tspan font-weight="bold">a</tspan>)</text>
<polyline points="108.7,501.6 109.0,507.3 109.4,512.0 109.7,505.7 110.0,499.1 110.4,503.5 110.7,501.2 111.0,500.0 111.3,500.8 111.7,520.0 112.0,504.4 112.3,503.4 112.7,501.6 113.0,502.5 113.3,503.4 113.7,504.7 114.0,494.4 114.3,497.9 114.6,504.4 115.0,505.6 115.3,505.9 115.6,500.0 116.0,513.6 116.3,500.2 116.6,499.4 117.0,504.6 117.3,497.3 117.6,498.8 117.9,505.6 118.3,501.6 118.6,496.3 118.9,495.3 119.3,499.3 119.6,500.8 119.9,508.2 120.3,495.3 120.6,505.5 120.9,496.6 121.2,496.7 121.6,503.6 121.9,498.3 122.2,496.9 122.6,499.9 122.9,501.9 123.2,497.6 123.6,505.5 123.9,521.3 124.2,499.1 124.5,497.9 124.9,496.0 125.2,496.6 125.5,498.7 125.9,498.8 126.2,503.4 126.5,500.8 126.9,494.1 127.2,500.1 127.5,499.0 127.9,500.4 128.2,518.5 128.5,512.1 128.8,502.1 129.2,497.6 129.5,500.8 129.8,504.3 130.2,501.1 130.5,503.8 130.8,503.3 131.2,504.2 131.5,499.6 131.8,510.6 132.1,505.8 132.5,503.5 132.8,515.2 133.1,503.3 133.5,503.7 133.8,496.5 134.1,499.9 134.5,501.9 134.8,502.7 135.1,504.0 135.4,493.3 135.8,504.0 136.1,503.9 136.4,518.2 136.8,500.6 137.1,503.4 137.4,497.9 137.8,502.2 138.1,504.3 138.4,496.7 138.7,500.2 139.1,507.4 139.4,515.7 139.7,500.4 140.1,503.3 140.4,499.4 140.7,503.3 141.1,511.6 141.4,496.0 141.7,501.3 142.1,520.6 142.4,503.7 142.7,496.1 143.0,504.9 143.4,503.4 143.7,505.3 144.0,497.6 144.4,494.1 144.7,505.7 145.0,498.1 145.4,497.2 145.7,494.0 146.0,504.0 146.3,494.5 146.7,509.4 147.0,513.0 147.3,514.2 147.7,509.4 148.0,539.9 148.3,538.6 148.7,533.6 149.0,540.1 149.3,545.1 149.6,563.0 150.0,545.3 150.3,558.3 150.6,526.4 151.0,552.0 151.3,548.5 151.6,560.8 152.0,554.0 152.2,549.9 152.5,548.2 152.8,548.2 153.0,565.7 153.3,549.9 153.4,545.7 153.6,550.7 153.9,549.9 154.1,551.5 154.3,555.7 154.5,550.7 154.8,555.7 155.1,552.4 155.3,544.9 155.6,553.2 155.9,552.4 156.1,549.0 156.4,551.5 156.6,561.5 156.9,550.7 157.2,548.2 157.4,548.2 157.6,545.7 157.9,552.4 158.2,557.4 158.4,554.9 158.7,558.2 158.9,560.7 159.2,562.4 159.5,562.4 159.8,559.0 160.2,548.2 160.3,547.4 160.5,554.0 160.6,616.5 163.4,616.5 163.6,594.0 163.9,559.0 164.2,551.5 164.5,551.5 164.8,549.0 165.1,556.5 165.3,555.7 165.7,554.0 166.0,550.7 166.2,546.5 166.5,552.4 166.8,550.7 167.0,552.4 167.3,550.7 167.6,552.4 167.8,549.9 168.2,546.5 168.4,551.5 168.8,554.0 169.1,557.4 169.4,555.7 169.8,554.0 170.1,552.4 170.4,557.4 170.7,554.0 170.9,547.4 171.2,542.4 171.4,550.7 171.7,555.7 172.0,559.0 172.2,559.0 172.5,548.2 172.7,554.0 173.0,562.4 173.2,576.5 173.4,567.4 173.6,565.7 173.9,567.4 174.1,570.7 174.3,562.4 174.5,554.0 174.8,564.0 175.0,567.4 175.3,560.7 175.6,555.7 175.8,552.4 176.1,555.7 176.3,557.4 176.6,555.7 176.9,547.4 177.1,541.5 177.3,544.0 177.5,554.0 177.7,616.5 180.4,616.5 180.5,570.7 180.7,560.7 181.0,554.0 181.2,552.4 181.5,535.7 181.8,533.2 182.0,535.7 182.2,544.0 182.4,554.0 182.7,554.9 182.9,557.4 183.1,562.4 183.4,573.2 183.6,562.4 183.9,555.7 184.1,557.4 184.3,589.0 184.6,584.0 184.9,570.7 185.1,555.7 185.3,544.0 185.6,537.4 185.8,542.4 186.0,550.7 186.3,562.4 186.6,570.7 186.8,577.3 187.1,570.7 185.5,539.0 185.7,537.4 186.0,554.0 186.2,564.0 186.5,570.7 186.7,577.3 186.9,570.7 187.2,567.4 187.5,569.0 187.7,567.4 187.9,565.7 188.2,569.0 188.5,579.0 188.7,577.3 189.0,580.7 189.2,576.5 189.5,580.7 189.8,572.4 189.9,548.2 190.1,559.0 190.3,575.7 190.6,574.0 190.8,574.9 191.0,574.9 191.3,580.7 191.6,572.4 191.8,567.4 192.1,565.7 192.3,565.7 192.7,569.0 193.0,572.4 193.3,573.2 193.5,564.0 193.9,559.0 194.2,554.0 194.5,559.0 194.7,565.7 194.9,560.7 195.2,555.7 195.4,554.0 195.7,550.7 196.0,544.0 196.2,526.5 196.5,524.9 196.8,524.0 197.2,524.9 197.5,526.5 197.8,529.0 198.1,524.9 198.5,521.5 198.8,520.7 199.1,523.2 199.2,530.7 199.4,537.4 199.6,543.2 199.7,534.0 200.0,527.4 200.3,524.0 200.5,522.4 200.8,530.7 200.9,529.0 201.3,524.0 201.6,522.4 202.0,529.0 202.3,535.7 202.5,525.7 202.7,515.7 202.9,521.5 203.2,507.4 203.4,505.7 203.6,511.5 204.0,514.0 204.2,517.4 202.5,519.9 202.8,522.4 203.0,514.0 203.3,505.7 203.5,512.4 203.9,515.7 204.2,518.2 204.5,514.0 204.7,509.0 205.0,505.7 205.2,502.4 205.4,508.2 205.7,511.5 205.9,509.0 206.0,524.0 206.2,534.0 206.5,534.9 206.6,529.0 206.8,512.4 207.1,506.5 207.5,504.0 207.8,500.7 208.1,503.2 208.3,507.4 208.6,505.7 209.0,507.4 209.3,505.7 209.7,501.5 210.0,505.7 210.3,507.4 210.6,517.4 210.8,531.5 210.9,517.4 211.2,509.0 211.5,502.4 211.8,499.9 212.1,499.0 212.5,497.4 212.8,496.1 213.0,497.4 213.3,498.2 213.7,496.6 214.0,495.7 214.4,494.9 214.7,497.4 215.1,495.7 215.4,496.6 215.7,497.4 216.1,499.0 216.4,495.7 216.8,494.9 217.1,496.6 217.5,494.4 217.7,499.0 217.9,505.7 218.1,509.0 218.3,500.7 218.5,497.4 218.7,494.9 219.0,494.1 219.3,499.0 219.5,496.6 219.9,495.7 220.2,497.4 220.6,496.6 220.9,498.2 221.3,498.2 221.9,496.6 222.2,498.2 222.5,499.0 222.9,500.7 223.2,503.2 223.5,499.9 223.8,497.4 224.1,498.2 224.4,497.4 224.7,496.1 225.0,497.4 225.3,499.0 225.6,497.4 225.8,499.9 226.2,498.2 226.5,500.7 226.9,501.5 227.2,499.9 227.5,497.4 227.8,496.6 228.1,498.2 228.4,499.9 228.7,500.7 229.0,502.4 229.3,504.9 229.5,503.2 229.8,502.4 230.1,503.2 230.3,504.0 230.5,501.5 230.8,499.9 231.0,495.7 231.2,492.4 231.3,495.7 231.5,500.7 231.8,502.4 232.0,498.2 232.3,496.6 232.5,501.5 232.8,503.2 233.1,502.4 233.4,502.0 233.7,502.7 234.1,501.5 234.2,508.0 234.5,500.8 234.8,498.6 235.2,503.6 235.5,504.7 235.8,496.3 236.2,501.5 236.5,499.9 236.8,501.6 237.1,505.0 237.5,497.6 237.8,494.3 238.1,514.5 238.5,495.4 238.8,497.0 239.1,496.8 239.5,499.6 239.8,496.2 240.1,502.3 240.4,500.3 240.8,496.5 241.1,499.0 241.4,503.7 241.8,513.3 242.1,509.1 242.4,506.8 242.8,512.4 243.1,521.0 243.4,517.2 243.8,519.0 244.1,532.3 244.4,543.6 244.7,533.4 245.1,539.8 245.4,542.4 245.7,539.5 246.1,542.7 246.4,550.7 246.7,548.0 247.1,545.6 247.4,565.5 247.7,553.8 248.0,544.0 248.4,545.8 248.7,558.7 249.0,558.2 249.4,551.3 249.7,557.9 250.0,554.1 250.4,555.0 250.7,550.9 251.0,563.9 251.3,562.6 251.7,558.7 252.0,549.6 252.3,554.8 252.7,561.6 253.0,552.8 253.3,552.2 253.7,556.5 254.0,557.2 254.3,554.3 254.6,551.6 255.0,557.0 255.3,556.4 255.6,576.4 256.0,562.2 256.3,565.4 256.6,560.2 257.0,561.9 257.3,561.0 257.6,555.4 258.0,556.6 258.3,554.2 258.6,563.2 258.9,553.2 259.3,556.8 259.6,556.6 259.9,555.6 260.3,546.6 260.6,548.0 260.9,554.2 261.3,555.7 261.6,550.7 261.9,552.5 262.2,543.4 262.6,556.2 262.9,570.9 263.2,551.2 263.6,550.2 263.9,549.8 264.2,547.4 264.6,542.0 264.9,552.1 265.2,553.1 265.5,565.6 265.9,550.0 266.2,547.6 266.5,552.4 266.9,546.5 267.2,551.4 267.5,545.3 267.9,550.3 268.2,556.2 268.5,554.2 268.8,557.7 269.2,558.4 269.5,549.8 269.8,547.1 270.2,542.4 270.5,550.5 270.8,551.0 271.2,554.8 271.5,546.3 271.8,563.1 272.1,553.3 272.5,548.2 272.8,548.9 273.1,559.3 273.5,548.6 273.8,551.3 274.1,553.6 274.5,553.8 274.8,544.9 275.1,545.9 275.5,544.8 275.8,557.3 276.1,555.4 276.4,549.0 276.8,558.2 277.1,556.5 277.4,561.3 277.8,546.4 278.1,550.0 278.4,553.1 278.8,554.8 279.1,558.1 279.4,558.7 279.7,555.1 280.1,561.3 280.4,553.9 280.7,561.7 281.1,564.1 281.4,556.1 281.7,563.0 282.1,561.1 282.4,566.2 282.7,574.8 283.0,565.4 283.4,575.6 283.7,567.8 284.0,583.0 284.4,587.0 284.7,578.0 285.0,580.7 285.4,585.7 285.7,596.2 286.0,587.8 286.3,603.6 286.7,590.4 287.0,589.8 287.3,584.9 287.7,574.3 288.0,578.4 288.3,567.9 288.7,563.2 289.0,572.3 289.3,566.1 289.6,558.9 290.0,557.0 290.3,549.2 290.6,558.3 291.0,540.9 291.3,537.5 291.6,539.1 292.0,542.4 292.3,531.6 292.6,531.2 293.0,523.6 293.3,535.3 293.6,514.5 293.9,527.7 294.3,512.4 294.6,548.5 294.9,539.0 295.3,527.7 295.6,548.1 295.9,530.2 296.3,563.6 296.6,533.2 296.9,533.3 297.2,526.1 297.6,513.6 297.9,505.5 298.2,507.4 298.6,520.2 298.9,505.0 299.2,499.4 299.6,508.4 299.9,502.0 300.2,505.4 300.5,509.3 300.9,502.7 301.2,512.5 301.5,513.1 301.9,517.8 302.2,509.8 302.5,506.7 302.9,506.4 303.2,506.5 303.5,504.6 303.8,503.3 304.2,506.3 304.5,502.0 304.8,507.1 305.2,505.6 305.5,533.6 305.8,500.2 306.2,505.0 306.5,500.0 306.8,506.0 307.2,500.7 307.5,500.2 307.8,499.1 308.1,501.8 308.5,499.1 308.8,500.2 309.1,511.8 309.5,498.1 309.8,499.1 310.1,496.6 310.5,494.2 310.8,496.8 311.1,501.8 311.4,507.8 311.8,498.8 312.1,496.9 312.4,507.2 312.8,497.7 313.1,500.3 313.4,502.2 313.8,496.2 314.1,497.2 314.4,501.8 314.7,500.9 315.1,498.5 315.4,504.9 315.7,500.5 316.1,503.2 316.4,499.5 316.7,497.6 317.1,500.3 317.4,501.4 317.7,503.4 318.0,499.9 318.4,502.7 318.7,498.5 319.0,498.3 319.4,500.0 319.7,497.6 320.0,499.7 320.4,499.5 320.7,497.4 321.0,503.2 321.3,504.9 321.7,503.6 322.0,517.4 322.3,514.9 322.7,512.8 323.0,497.3 323.3,515.6 323.7,514.5 324.0,502.9 324.3,503.9 324.7,500.3 325.0,505.1 325.3,508.2 325.6,502.6 326.0,505.2 326.3,501.1 326.6,498.8 327.0,498.1 327.3,502.8 327.6,500.1 328.0,511.9 328.3,501.4 328.6,503.0 328.9,501.9 329.3,504.6 329.6,503.0 329.9,506.1 330.3,500.6 330.6,503.4 330.9,506.9 331.3,508.2 331.6,500.8 331.9,504.3 332.2,502.8 332.6,500.9 332.9,502.2 333.2,499.5 333.6,504.1 333.9,500.1 334.2,510.1 334.6,515.5 334.9,501.7 335.2,496.7 335.5,509.3 335.9,498.9 336.2,503.1 336.5,504.8 336.9,512.1 337.2,517.1 337.5,519.9 337.9,526.1 338.2,537.7 338.5,543.9 338.8,543.2 339.2,545.2 339.5,548.4 339.8,554.2 340.2,548.2 340.5,543.7 340.8,550.9 341.2,548.2 341.5,560.9 341.8,550.0 342.2,549.7 342.5,556.5 342.8,559.8 343.1,547.2 343.5,554.7 343.8,547.3 344.1,553.0 344.5,547.1 344.8,553.2 345.1,560.5 345.5,566.0 345.8,617.1 346.1,617.1 346.4,617.1 346.8,617.1 347.1,617.1 347.4,549.0 347.8,552.4 348.1,551.7 348.4,555.2 348.8,553.0 349.1,552.0 349.4,554.5 349.7,556.2 350.1,555.4 350.4,541.6 350.7,555.5 351.1,556.7 351.4,557.1 351.7,554.8 352.1,552.9 352.4,560.7 352.7,565.4 353.0,551.8 353.4,563.0 353.7,551.8 354.0,552.5 354.4,546.4 354.7,543.2 355.0,550.9 355.4,556.3 355.7,559.9 356.0,557.5 356.4,552.5 356.7,572.8 357.0,552.4 357.3,553.0 357.7,549.2 358.0,555.1 358.3,552.6 358.7,557.7 359.0,556.1 359.3,564.0 359.7,552.8 360.0,544.4 360.3,552.7 360.6,551.6 361.0,559.7 361.3,545.4 361.6,617.1 362.0,617.1 362.3,617.1 362.6,617.1 363.0,617.1 363.3,617.1 363.6,553.5 363.9,551.5 364.3,554.0 364.6,555.8 364.9,550.5 365.3,555.3 365.6,552.2 365.9,556.2 366.3,560.8 366.6,555.9 366.9,555.0 367.2,552.2 367.6,545.4 367.9,562.7 368.2,561.2 368.6,538.2 368.9,561.1 369.2,558.9 369.6,570.3 369.9,568.9 370.2,558.8 370.5,561.6 370.9,591.8 371.2,571.4 371.5,556.1 371.9,572.5 372.2,580.6 372.5,569.4 372.9,576.0 373.2,588.5 373.5,562.0 373.9,566.6 374.2,564.0 374.5,566.7 374.8,574.6 375.2,563.0 375.5,568.2 375.8,575.7 376.2,574.7 376.5,565.0 376.8,573.4 377.2,571.4 377.5,568.3 377.8,572.0 378.1,581.7 378.5,568.7 378.8,566.7 379.1,567.0 379.5,562.4 379.8,569.7 380.1,567.0 380.5,561.6 380.8,572.2 381.1,559.6 381.4,559.1 381.8,564.2 382.1,557.3 382.4,562.7 382.8,572.1 383.1,556.1 383.4,556.9 383.8,552.5 384.1,550.0 384.4,538.9 384.7,540.1 385.1,544.3 385.4,533.9 385.7,529.2 386.1,534.6 386.4,529.9 386.7,526.3 387.1,524.5 387.4,514.5 387.7,515.7 388.0,513.0 388.4,518.3 388.7,518.1 389.0,516.0 389.4,513.4 389.7,523.8 390.0,515.3 390.4,518.7 390.7,522.6 391.0,525.7 391.4,526.8 391.7,526.0 392.0,532.1 392.3,518.6 392.7,520.9 393.0,518.5 393.3,516.3 393.7,521.0 394.0,513.0 394.3,517.2 394.7,556.4 395.0,505.9 395.3,509.6 395.6,510.8 396.0,514.1 396.3,515.3 396.6,516.1 397.0,509.5 397.3,510.0 397.6,515.9 398.0,512.4 398.3,528.3 398.6,505.8 398.9,506.4 399.3,507.0 399.6,508.6 399.9,515.5 400.3,512.6 400.6,505.9 400.9,508.7 401.3,503.6 401.6,512.1 401.9,508.7 402.2,502.5 402.6,506.0 402.9,498.7 403.2,506.1 403.6,518.6 403.9,499.8 404.2,500.4 404.6,499.6 404.9,499.3 405.2,498.6 405.5,498.4 405.9,513.8 406.2,497.8 406.5,503.6 406.9,497.8 407.2,500.9 407.5,499.5 407.9,496.2 408.2,491.3 408.5,617.1 408.9,617.1 409.2,500.6 409.5,500.5 409.8,497.9 410.2,503.2 410.5,494.8 410.8,501.5 411.2,492.4 411.5,500.9 411.8,498.4 412.2,497.8 412.5,499.0 412.8,497.6 413.1,495.1 413.5,496.8 413.8,496.4 414.1,502.2 414.5,497.0 414.8,501.4 415.1,503.0 415.5,498.5 415.8,502.6 416.1,498.8 416.4,494.9 416.8,505.2 417.1,502.9 417.4,502.2 417.8,493.9 418.1,498.7 418.4,504.9 418.8,500.3 419.1,501.8 419.4,519.9 419.7,497.0 420.1,505.7 420.4,495.3 420.7,500.1 421.1,497.7 421.4,498.8 421.7,500.8 422.1,498.9 422.4,499.2 422.7,510.0 423.1,511.9 423.4,500.2 423.7,507.5 424.0,513.4 424.4,500.0 424.7,498.9 425.0,499.3 425.4,508.5 425.7,499.2 426.0,493.9 426.4,505.9 426.7,503.5 427.0,493.8 427.3,497.5 427.7,502.2 428.0,507.2 428.3,500.1 428.7,506.2 429.0,499.7 429.3,498.4 429.7,500.3 430.0,497.6 430.3,503.3 430.6,499.1 431.0,499.7 431.3,503.2 431.6,505.7 432.0,507.9 432.3,511.5 432.6,509.3 433.0,523.7 433.3,512.2 433.6,524.9 433.9,540.2 434.3,534.2 434.6,551.8 434.9,523.5 435.3,529.5 435.6,547.1 435.9,516.6 436.3,551.3 436.6,542.9 436.9,556.7 437.2,533.1 437.6,539.9 437.9,534.6 438.2,540.2 438.6,539.0 438.9,534.2" fill="none" stroke="#1682c9" stroke-width="1.15" stroke-linejoin="round"/>
<polyline points="108.7,502.2 109.0,502.8 109.4,504.5 109.7,502.6 110.0,500.2 110.4,501.7 110.7,500.3 111.0,501.5 111.3,503.0 111.7,499.9 112.0,499.8 112.3,500.7 112.7,500.2 113.0,499.2 113.3,500.1 113.7,498.7 114.0,499.2 114.3,501.7 114.6,498.8 115.0,499.2 115.3,499.3 115.6,497.6 116.0,498.6 116.3,497.1 116.6,496.3 117.0,497.3 117.3,499.2 117.6,498.1 117.9,495.9 118.3,497.3 118.6,497.9 118.9,496.9 119.3,496.0 119.6,496.2 119.9,495.6 120.3,497.5 120.6,496.9 120.9,497.0 121.2,496.8 121.6,499.5 121.9,497.3 122.2,498.8 122.6,495.5 122.9,495.4 123.2,495.4 123.6,496.6 123.9,498.3 124.2,496.6 124.5,498.2 124.9,497.3 125.2,499.3 125.5,499.0 125.9,497.8 126.2,496.4 126.5,498.8 126.9,496.1 127.2,495.6 127.5,500.8 127.9,499.4 128.2,500.8 128.5,499.9 128.8,500.6 129.2,500.1 129.5,499.0 129.8,499.2 130.2,500.2 130.5,500.7 130.8,500.7 131.2,500.9 131.5,500.5 131.8,501.4 132.1,500.9 132.5,503.3 132.8,500.8 133.1,499.4 133.5,501.2 133.8,503.1 134.1,499.4 134.5,501.4 134.8,504.5 135.1,500.9 135.4,499.7 135.8,499.8 136.1,498.6 136.4,499.2 136.8,499.8 137.1,502.3 137.4,501.1 137.8,499.4 138.1,498.7 138.4,500.8 138.7,500.2 139.1,498.8 139.4,501.6 139.7,501.6 140.1,499.3 140.4,498.5 140.7,499.2 141.1,501.2 141.4,498.0 141.7,499.5 142.1,496.8 142.4,497.4 142.7,496.7 143.0,496.0 143.4,497.2 143.7,495.3 144.0,494.6 144.4,495.5 144.7,494.2 145.0,496.5 145.4,494.4 145.7,495.8 146.0,498.4 146.3,498.2 146.7,505.0 147.0,511.7 147.3,517.5 147.7,522.3 148.0,531.4 148.3,536.3 148.7,543.8 149.0,545.6 149.3,545.6 149.6,546.7 150.0,547.8 150.3,550.1 150.6,551.4 151.0,550.2 151.3,552.7 151.6,552.7 152.0,550.7 152.4,549.9 152.9,551.5 153.4,551.5 154.0,552.4 154.5,552.4 155.0,550.7 155.5,549.9 156.0,551.5 156.5,551.5 157.2,549.9 157.7,549.9 158.3,550.7 158.8,553.2 159.3,554.9 159.8,555.7 160.3,554.0 160.8,549.9 161.4,548.2 161.7,547.4 162.0,549.9 162.6,552.4 163.1,555.7 163.6,557.4 164.1,559.0 164.6,555.7 165.1,554.0 165.8,552.4 166.5,551.5 167.2,550.7 167.9,549.9 168.6,550.7 169.3,550.7 170.0,551.5 170.5,551.5 171.2,550.7 171.7,550.7 172.2,551.0 172.6,549.9 172.9,552.4 173.2,555.7 173.5,561.5 173.9,559.0 174.3,560.7 174.6,557.4 175.0,555.7 175.3,557.4 175.7,555.7 176.2,554.9 176.7,553.2 177.2,551.5 177.7,549.9 178.2,549.0 178.6,551.5 179.1,554.9 179.6,559.0 180.1,562.4 180.5,564.9 180.8,562.4 181.2,557.4 181.7,554.0 182.0,549.0 182.3,546.5 182.5,550.7 182.9,554.0 183.3,557.4 183.7,559.9 184.2,562.4 184.5,569.0 184.9,575.7 185.3,572.4 185.6,557.4 185.9,547.4 186.1,550.7 186.4,557.4 186.7,562.4 187.0,568.2 185.8,547.4 186.1,560.7 186.5,567.4 187.0,569.0 187.5,568.2 188.0,569.0 188.6,574.0 189.1,576.5 189.6,577.3 189.9,572.4 190.3,558.2 190.6,567.4 191.0,569.0 191.5,568.2 192.0,565.7 192.5,561.5 193.0,560.7 193.5,559.0 194.1,554.0 194.6,549.9 195.1,550.7 195.6,546.5 196.0,544.9 196.3,534.0 196.6,527.4 197.2,525.7 197.7,527.4 198.2,525.7 198.7,522.4 199.1,523.2 199.4,530.7 199.7,537.4 200.1,527.4 200.4,524.0 200.9,524.9 201.5,520.7 201.9,517.4 202.3,514.9 202.7,514.0 203.1,511.5 203.4,508.2 203.9,509.9 203.0,511.5 203.4,507.4 203.9,509.0 204.4,510.7 204.9,507.4 205.4,504.9 205.9,505.7 206.2,514.0 206.5,524.0 206.7,529.0 207.0,514.0 207.3,505.7 207.8,501.5 208.3,502.4 208.9,502.7 209.4,502.0 209.9,502.4 210.3,503.2 210.8,507.4 211.1,512.4 211.4,504.9 211.8,501.5 212.3,499.9 212.8,499.0 213.5,498.2 214.2,497.0 214.9,496.6 215.6,496.6 216.3,496.6 217.0,496.1 217.6,497.0 218.2,499.0 218.7,497.0 219.4,497.4 220.1,497.7 220.7,497.4 222.2,497.0 222.9,498.2 223.6,498.2 224.3,498.7 225.0,498.7 225.6,499.4 226.3,499.9 227.0,500.4 227.7,500.7 228.4,500.7 229.1,501.5 229.8,502.4 230.5,502.0 231.2,501.5 231.8,501.0 232.5,500.7 233.2,501.0 234.1,500.7 234.2,499.5 234.5,501.5 234.8,497.9 235.2,501.7 235.5,499.1 235.8,500.8 236.2,498.9 236.5,500.1 236.8,498.5 237.1,498.5 237.5,498.7 237.8,497.4 238.1,496.1 238.5,498.6 238.8,496.7 239.1,497.6 239.5,497.6 239.8,494.8 240.1,500.1 240.4,498.2 240.8,500.7 241.1,500.5 241.4,502.0 241.8,498.6 242.1,507.2 242.4,510.0 242.8,515.0 243.1,519.9 243.4,520.7 243.8,521.1 244.1,526.2 244.4,528.9 244.7,531.2 245.1,537.6 245.4,539.2 245.7,539.3 246.1,540.9 246.4,545.5 246.7,546.4 247.1,548.0 247.4,549.6 247.7,548.8 248.0,550.5 248.4,551.0 248.7,554.5 249.0,554.5 249.4,552.3 249.7,555.8 250.0,552.6 250.4,554.4 250.7,554.7 251.0,552.2 251.3,554.7 251.7,555.2 252.0,555.1 252.3,554.1 252.7,549.6 253.0,558.6 253.3,555.2 253.7,555.9 254.0,554.1 254.3,556.8 254.6,561.1 255.0,555.3 255.3,560.6 255.6,559.8 256.0,563.1 256.3,563.6 256.6,562.2 257.0,559.1 257.3,558.5 257.6,560.4 258.0,557.8 258.3,558.5 258.6,556.5 258.9,555.3 259.3,553.3 259.6,554.4 259.9,552.3 260.3,551.3 260.6,551.3 260.9,552.7 261.3,547.9 261.6,551.6 261.9,549.2 262.2,550.0 262.6,548.0 262.9,554.0 263.2,546.5 263.6,550.7 263.9,552.6 264.2,550.3 264.6,546.6 264.9,549.9 265.2,553.1 265.5,551.8 265.9,548.7 266.2,553.7 266.5,551.6 266.9,552.0 267.2,547.7 267.5,552.2 267.9,549.4 268.2,553.1 268.5,553.1 268.8,549.6 269.2,550.1 269.5,554.1 269.8,549.6 270.2,549.4 270.5,551.4 270.8,549.7 271.2,549.7 271.5,551.3 271.8,551.7 272.1,552.1 272.5,551.6 272.8,553.7 273.1,551.6 273.5,554.4 273.8,551.8 274.1,552.2 274.5,554.0 274.8,550.7 275.1,548.9 275.5,550.1 275.8,555.0 276.1,550.4 276.4,552.5 276.8,553.3 277.1,554.6 277.4,553.9 277.8,551.7 278.1,553.5 278.4,555.8 278.8,556.9 279.1,557.2 279.4,556.0 279.7,554.4 280.1,560.3 280.4,559.1 280.7,560.4 281.1,561.9 281.4,560.8 281.7,561.5 282.1,566.0 282.4,566.3 282.7,563.3 283.0,567.2 283.4,569.1 283.7,573.3 284.0,575.4 284.4,576.2 284.7,580.6 285.0,585.0 285.4,586.4 285.7,588.0 286.0,594.5 286.3,588.4 286.7,586.7 287.0,587.1 287.3,582.9 287.7,579.0 288.0,573.9 288.3,569.8 288.7,569.4 289.0,565.5 289.3,558.0 289.6,556.6 290.0,553.1 290.3,550.3 290.6,545.2 291.0,547.1 291.3,539.7 291.6,539.8 292.0,533.7 292.3,529.3 292.6,530.9 293.0,526.0 293.3,526.2 293.6,525.3 293.9,523.8 294.3,527.4 294.6,529.4 294.9,528.7 295.3,530.7 295.6,535.6 295.9,539.5 296.3,535.1 296.6,532.1 296.9,524.5 297.2,517.4 297.6,507.9 297.9,504.7 298.2,505.6 298.6,501.8 298.9,503.0 299.2,502.4 299.6,504.5 299.9,504.7 300.2,504.9 300.5,503.9 300.9,504.9 301.2,505.2 301.5,504.8 301.9,505.2 302.2,503.3 302.5,505.0 302.9,505.7 303.2,504.1 303.5,502.0 303.8,504.2 304.2,503.1 304.5,503.3 304.8,502.0 305.2,501.8 305.5,502.8 305.8,501.8 306.2,500.0 306.5,499.5 306.8,499.3 307.2,499.1 307.5,500.2 307.8,500.0 308.1,498.0 308.5,500.3 308.8,498.6 309.1,500.5 309.5,498.3 309.8,498.4 310.1,498.8 310.5,496.6 310.8,498.2 311.1,497.8 311.4,497.6 311.8,498.2 312.1,495.5 312.4,497.9 312.8,497.1 313.1,498.9 313.4,497.9 313.8,497.8 314.1,497.9 314.4,498.4 314.7,497.7 315.1,496.1 315.4,498.4 315.7,498.5 316.1,499.0 316.4,495.5 316.7,496.9 317.1,498.3 317.4,498.3 317.7,500.2 318.0,499.7 318.4,499.4 318.7,499.7 319.0,501.1 319.4,501.1 319.7,499.7 320.0,500.1 320.4,503.3 320.7,500.7 321.0,499.4 321.3,501.7 321.7,500.7 322.0,502.8 322.3,499.9 322.7,502.3 323.0,502.5 323.3,501.3 323.7,498.0 324.0,502.1 324.3,503.2 324.7,501.3 325.0,501.6 325.3,499.8 325.6,503.4 326.0,503.8 326.3,502.2 326.6,501.4 327.0,501.4 327.3,500.5 327.6,504.1 328.0,503.6 328.3,502.8 328.6,501.3 328.9,501.4 329.3,502.2 329.6,502.6 329.9,499.9 330.3,499.5 330.6,497.0 330.9,500.3 331.3,497.9 331.6,501.4 331.9,500.5 332.2,500.5 332.6,500.2 332.9,500.6 333.2,500.1 333.6,499.4 333.9,499.8 334.2,498.4 334.6,499.3 334.9,500.0 335.2,499.0 335.5,501.2 335.9,502.3 336.2,503.3 336.5,506.0 336.9,510.0 337.2,516.4 337.5,519.5 337.9,525.4 338.2,532.6 338.5,538.8 338.8,544.1 339.2,544.7 339.5,544.5 339.8,544.1 340.2,546.7 340.5,547.7 340.8,545.3 341.2,549.6 341.5,546.7 341.8,547.2 342.2,551.4 342.5,548.8 342.8,550.5 343.1,551.4 343.5,553.2 343.8,553.0 344.1,549.8 344.5,551.6 344.8,550.7 345.1,553.4 345.5,552.4 345.8,552.7 346.1,555.3 346.4,556.0 346.8,553.2 347.1,554.7 347.4,557.6 347.8,557.2 348.1,556.8 348.4,554.8 348.8,559.2 349.1,556.2 349.4,553.3 349.7,556.6 350.1,553.7 350.4,560.6 350.7,553.1 351.1,555.4 351.4,558.3 351.7,553.3 352.1,552.5 352.4,551.9 352.7,551.6 353.0,553.7 353.4,554.9 353.7,554.3 354.0,553.4 354.4,552.6 354.7,554.0 355.0,553.0 355.4,551.5 355.7,552.4 356.0,548.8 356.4,549.0 356.7,554.9 357.0,553.9 357.3,555.3 357.7,555.2 358.0,552.2 358.3,555.0 358.7,555.2 359.0,553.9 359.3,552.1 359.7,554.2 360.0,554.3 360.3,552.1 360.6,553.0 361.0,553.1 361.3,552.3 361.6,555.9 362.0,553.8 362.3,555.4 362.6,552.5 363.0,553.0 363.3,556.4 363.6,552.2 363.9,556.4 364.3,551.9 364.6,553.3 364.9,554.8 365.3,555.0 365.6,553.2 365.9,552.4 366.3,553.2 366.6,551.0 366.9,554.6 367.2,552.3 367.6,552.5 367.9,556.0 368.2,552.4 368.6,556.2 368.9,559.4 369.2,557.0 369.6,557.3 369.9,556.3 370.2,560.6 370.5,559.5 370.9,561.8 371.2,564.8 371.5,566.7 371.9,571.0 372.2,576.5 372.5,578.3 372.9,578.0 373.2,574.0 373.5,569.6 373.9,570.3 374.2,566.7 374.5,567.6 374.8,570.8 375.2,568.7 375.5,567.9 375.8,569.9 376.2,568.8 376.5,569.4 376.8,573.9 377.2,572.3 377.5,571.4 377.8,571.1 378.1,570.1 378.5,575.9 378.8,572.5 379.1,571.0 379.5,569.9 379.8,569.0 380.1,573.3 380.5,571.8 380.8,572.4 381.1,568.6 381.4,571.8 381.8,566.8 382.1,566.7 382.4,566.9 382.8,570.7 383.1,564.1 383.4,557.6 383.8,557.5 384.1,551.4 384.4,547.2 384.7,541.9 385.1,539.7 385.4,536.4 385.7,534.4 386.1,530.3 386.4,527.2 386.7,522.4 387.1,520.7 387.4,517.6 387.7,525.7 388.0,523.9 388.4,526.8 388.7,523.2 389.0,523.7 389.4,521.1 389.7,518.6 390.0,521.1 390.4,520.8 390.7,522.1 391.0,522.2 391.4,526.3 391.7,524.6 392.0,524.2 392.3,523.6 392.7,521.1 393.0,522.0 393.3,516.0 393.7,515.7 394.0,511.5 394.3,512.6 394.7,510.6 395.0,507.4 395.3,511.9 395.6,511.6 396.0,514.8 396.3,516.5 396.6,514.3 397.0,512.4 397.3,508.0 397.6,507.4 398.0,507.7 398.3,503.5 398.6,506.9 398.9,505.6 399.3,507.8 399.6,507.8 399.9,505.6 400.3,507.5 400.6,506.9 400.9,506.2 401.3,505.2 401.6,502.3 401.9,504.9 402.2,504.2 402.6,501.1 402.9,503.0 403.2,500.6 403.6,497.9 403.9,498.9 404.2,499.1 404.6,499.1 404.9,499.0 405.2,498.3 405.5,497.2 405.9,495.8 406.2,496.1 406.5,498.0 406.9,498.1 407.2,496.2 407.5,499.2 407.9,497.4 408.2,497.1 408.5,498.0 408.9,497.7 409.2,496.0 409.5,498.6 409.8,497.8 410.2,497.5 410.5,496.7 410.8,498.6 411.2,495.6 411.5,497.4 411.8,497.4 412.2,497.7 412.5,498.1 412.8,498.6 413.1,496.0 413.5,497.3 413.8,497.8 414.1,496.5 414.5,498.7 414.8,497.1 415.1,497.9 415.5,499.1 415.8,497.2 416.1,500.1 416.4,497.5 416.8,499.5 417.1,497.9 417.4,496.8 417.8,497.9 418.1,499.5 418.4,498.8 418.8,499.3 419.1,500.4 419.4,500.4 419.7,499.1 420.1,498.6 420.4,501.6 420.7,499.6 421.1,499.1 421.4,499.8 421.7,501.3 422.1,498.9 422.4,501.9 422.7,499.7 423.1,498.7 423.4,503.4 423.7,500.6 424.0,500.4 424.4,500.2 424.7,501.3 425.0,500.5 425.4,501.6 425.7,499.5 426.0,498.8 426.4,500.0 426.7,500.1 427.0,499.4 427.3,498.6 427.7,498.3 428.0,498.2 428.3,497.8 428.7,499.3 429.0,500.8 429.3,496.9 429.7,496.2 430.0,500.0 430.3,499.4 430.6,498.6 431.0,498.4 431.3,500.6 431.6,501.6 432.0,505.1 432.3,506.3 432.6,508.1 433.0,512.5 433.3,514.4 433.6,518.8 433.9,522.8 434.3,529.8 434.6,531.4 434.9,536.7 435.3,535.8 435.6,542.8 435.9,541.6 436.3,540.0 436.6,543.5 436.9,543.8 437.2,548.4 437.6,541.7 437.9,542.0 438.2,541.6 438.6,538.2 438.9,535.7" fill="none" stroke="#f68b14" stroke-width="1.2" stroke-linejoin="round"/>
<path d="M75.8,481.6 V635.5 M75.8,635.5 H472.4" stroke="#000" stroke-width="1.3" fill="none"/>
<path d="M108.70,635.5 v6 M174.74,635.5 v6 M240.78,635.5 v6 M306.82,635.5 v6 M372.86,635.5 v6 M438.90,635.5 v6 M75.68,635.5 v3.5 M141.72,635.5 v3.5 M207.76,635.5 v3.5 M273.80,635.5 v3.5 M339.84,635.5 v3.5 M405.88,635.5 v3.5 M471.92,635.5 v3.5 M75.8,635.16 h-6 M75.8,617.10 h-6 M75.8,599.04 h-6 M75.8,580.98 h-6 M75.8,562.92 h-6 M75.8,544.86 h-6 M75.8,526.80 h-6 M75.8,508.74 h-6 M75.8,490.68 h-6 M75.8,626.13 h-3.5 M75.8,608.07 h-3.5 M75.8,590.01 h-3.5 M75.8,571.95 h-3.5 M75.8,553.89 h-3.5 M75.8,535.83 h-3.5 M75.8,517.77 h-3.5 M75.8,499.71 h-3.5 M75.8,481.65 h-3.5" stroke="#000" stroke-width="1.2" fill="none"/>
<text transform="translate(108.90,656.00) scale(1,1.05)" text-anchor="middle" font-size="12">0</text>
<text transform="translate(174.94,656.00) scale(1,1.05)" text-anchor="middle" font-size="12">200</text>
<text transform="translate(240.98,656.00) scale(1,1.05)" text-anchor="middle" font-size="12">400</text>
<text transform="translate(307.02,656.00) scale(1,1.05)" text-anchor="middle" font-size="12">600</text>
<text transform="translate(373.06,656.00) scale(1,1.05)" text-anchor="middle" font-size="12">800</text>
<text transform="translate(439.10,656.00) scale(1,1.05)" text-anchor="middle" font-size="12">1000</text>
<text transform="translate(65.00,638.76) scale(1,1.05)" text-anchor="end" font-size="12">-10</text>
<text transform="translate(65.00,620.70) scale(1,1.05)" text-anchor="end" font-size="12">0</text>
<text transform="translate(65.00,602.64) scale(1,1.05)" text-anchor="end" font-size="12">10</text>
<text transform="translate(65.00,584.58) scale(1,1.05)" text-anchor="end" font-size="12">20</text>
<text transform="translate(65.00,566.52) scale(1,1.05)" text-anchor="end" font-size="12">30</text>
<text transform="translate(65.00,548.46) scale(1,1.05)" text-anchor="end" font-size="12">40</text>
<text transform="translate(65.00,530.40) scale(1,1.05)" text-anchor="end" font-size="12">50</text>
<text transform="translate(65.00,512.34) scale(1,1.05)" text-anchor="end" font-size="12">60</text>
<text transform="translate(65.00,494.28) scale(1,1.05)" text-anchor="end" font-size="12">70</text>
<rect x="151.4" y="490.6" width="82.6" height="130.2" fill="none" stroke="#6e6e6e" stroke-width="1.3"/>
<rect x="429.5" y="586.6" width="115.10000000000002" height="38.799999999999955" fill="#fff" stroke="#b4b4b4" stroke-width="1.3"/>
<path d="M431.8,597 H464.9" stroke="#1e90d2" stroke-width="1.5"/>
<path d="M431.8,615.5 H464.9" stroke="#fbb36a" stroke-width="1.6"/>
<text transform="translate(470.00,602.30) scale(1,0.98)" font-size="15.2">Real Value</text>
<text transform="translate(470.00,620.60) scale(1,0.98)" font-size="15.2">MSGSGCN</text>
<text transform="translate(42.9,558.8) rotate(-90)" text-anchor="middle" font-size="15">Speed(miles/h)</text>
<text transform="translate(257.70,668.50) scale(1,0.997)" text-anchor="middle" font-size="15">Time step (5 min)</text>
<path d="M151.2,620.8 L47.5,688.5 M234,621 L481.4,695.3" stroke="#000" stroke-width="1.7" fill="none"/>
<polyline points="48.3,766.4 49.5,761.8 50.8,760.0 52.3,760.0 53.5,779.1 55.0,761.8 55.9,757.3 56.8,762.7 58.1,761.8 59.2,763.6 60.5,768.2 61.7,762.7 63.2,768.2 64.5,764.5 65.9,756.4 67.2,765.5 68.6,764.5 69.9,760.9 71.4,763.6 72.6,774.5 74.1,762.7 75.5,760.0 76.8,760.0 78.1,757.3 79.5,764.5 81.0,770.0 82.3,767.3 83.5,770.9 85.0,773.6 86.5,775.5 87.9,775.5 89.5,771.8 91.4,760.0 92.3,759.1 93.2,766.4 93.7,834.5 108.6,834.5 109.5,810.0 111.4,771.8 112.6,763.6 114.1,763.6 115.9,760.9 117.4,769.1 118.6,768.2 120.5,766.4 122.3,762.7 123.5,758.2 125.0,764.5 126.5,762.7 127.7,764.5 129.0,762.7 130.5,764.5 131.9,761.8 133.7,758.2 135.0,763.6 136.8,766.4 138.6,770.0 140.5,768.2 142.3,766.4 144.1,764.5 145.5,770.0 146.8,766.4 148.1,759.1 149.5,753.6 151.0,762.7 152.3,768.2 153.7,771.8 155.0,771.8 156.5,760.0 157.7,766.4 159.0,775.5 160.1,790.9 161.4,780.9 162.6,779.1 163.7,780.9 165.0,784.5 166.3,775.5 167.4,766.4 168.6,777.3 169.9,780.9 171.4,773.6 172.8,768.2 174.1,764.5 175.4,768.2 176.8,770.0 178.3,768.2 179.5,759.1 180.8,752.7 181.9,755.5 183.2,766.4 184.1,834.5 198.3,834.5 199.0,784.5 200.1,773.6 201.4,766.4 202.6,764.5 204.1,746.4 205.5,743.6 206.8,746.4 207.7,755.5 209.0,766.4 210.5,767.3 211.7,770.0 212.8,775.5 214.1,787.3 215.4,775.5 216.8,768.2 218.1,770.0 219.0,804.5 220.5,799.1 221.9,784.5 223.2,768.2 224.1,755.5 225.5,748.2 226.8,753.6 228.1,762.7 229.5,775.5 231.0,784.5 232.3,791.8 233.5,784.5 225.0,750.0 226.5,748.2 227.7,766.4 229.0,777.3 230.5,784.5 231.5,791.8 232.6,784.5 234.1,780.9 235.5,782.7 236.8,780.9 238.1,779.1 239.5,782.7 241.0,793.6 242.3,791.8 243.5,795.5 245.0,790.9 246.5,795.5 247.7,786.4 248.6,760.0 249.5,771.8 250.5,790.0 251.9,788.2 253.2,789.1 254.5,789.1 255.9,795.5 257.4,786.4 258.6,780.9 259.9,779.1 261.4,779.1 263.2,782.7 265.0,786.4 266.5,787.3 267.7,777.3 269.5,771.8 271.4,766.4 272.6,771.8 273.7,779.1 275.0,773.6 276.3,768.2 277.7,766.4 279.2,762.7 280.5,755.5 281.7,736.4 283.2,734.5 285.0,733.6 286.8,734.5 288.6,736.4 290.5,739.1 291.9,734.5 293.7,730.9 295.5,730.0 296.8,732.7 297.7,740.9 298.6,748.2 299.5,754.5 300.5,744.5 301.7,737.3 303.2,733.6 304.5,731.8 305.9,740.9 306.8,739.1 308.6,733.6 310.5,731.8 312.3,739.1 313.7,746.4 315.0,735.5 315.9,724.5 317.4,730.9 318.6,715.5 319.5,713.6 321.0,720.0 322.8,722.7 324.1,726.4 315.0,729.1 316.5,731.8 317.7,722.7 319.0,713.6 320.5,720.9 322.3,724.5 324.1,727.3 325.5,722.7 326.8,717.3 328.1,713.6 329.2,710.0 330.5,716.4 331.7,720.0 332.8,717.3 333.5,733.6 334.6,744.5 335.9,745.5 336.8,739.1 337.9,720.9 339.5,714.5 341.4,711.8 343.2,708.2 344.5,710.9 345.9,715.5 347.4,713.6 349.2,715.5 351.0,713.6 353.2,709.1 354.6,713.6 356.5,715.5 357.7,726.4 358.6,741.8 359.5,726.4 360.8,717.3 362.6,710.0 364.1,707.3 365.9,706.4 367.7,704.5 369.2,703.1 370.5,704.5 372.3,705.5 374.1,703.6 375.9,702.7 377.7,701.8 379.5,704.5 381.4,702.7 383.2,703.6 385.0,704.5 386.8,706.4 388.6,702.7 390.5,701.8 392.3,703.6 394.1,701.3 395.4,706.4 396.5,713.6 397.2,717.3 398.3,708.2 399.5,704.5 400.8,701.8 402.3,700.9 403.7,706.4 405.0,703.6 406.8,702.7 408.6,704.5 410.5,703.6 412.3,705.5 414.1,705.5 417.3,703.6 419.1,705.5 420.9,706.4 422.7,708.2 424.5,710.9 426.0,707.3 427.3,704.5 429.1,705.5 430.9,704.5 432.2,703.1 433.6,704.5 435.5,706.4 436.9,704.5 438.2,707.3 440.0,705.5 441.8,708.2 443.6,709.1 445.5,707.3 447.3,704.5 448.5,703.6 450.0,705.5 451.8,707.3 453.6,708.2 455.1,710.0 456.4,712.7 457.6,710.9 459.1,710.0 460.5,710.9 461.8,711.8 463.1,709.1 464.5,707.3 465.5,702.7 466.4,699.1 467.3,702.7 468.2,708.2 469.6,710.0 470.9,705.5 472.2,703.6 473.6,709.1 475.1,710.9 476.5,710.0 478.2,709.6 480.0,710.4 481.8,709.1" fill="none" stroke="#1e90d2" stroke-width="1.4" stroke-linejoin="round"/>
<polyline points="48.3,762.7 50.5,761.8 53.2,763.6 55.9,763.6 58.6,764.5 61.4,764.5 64.1,762.7 66.8,761.8 69.5,763.6 72.3,763.6 75.9,761.8 78.6,761.8 81.4,762.7 84.1,765.5 86.8,767.3 89.5,768.2 92.3,766.4 95.0,761.8 97.7,760.0 99.5,759.1 101.4,761.8 104.1,764.5 106.8,768.2 109.5,770.0 112.3,771.8 115.0,768.2 117.7,766.4 121.4,764.5 125.0,763.6 128.6,762.7 132.3,761.8 135.9,762.7 139.5,762.7 143.2,763.6 145.9,763.6 149.5,762.7 152.3,762.7 155.0,763.1 157.2,761.8 158.6,764.5 160.5,768.2 161.9,774.5 163.7,771.8 165.9,773.6 167.7,770.0 169.5,768.2 171.4,770.0 173.5,768.2 175.9,767.3 178.6,765.5 181.4,763.6 184.1,761.8 186.8,760.9 188.6,763.6 191.4,767.3 194.1,771.8 196.8,775.5 198.6,778.2 200.5,775.5 202.6,770.0 205.0,766.4 206.8,760.9 208.1,758.2 209.5,762.7 211.4,766.4 213.5,770.0 215.9,772.7 218.3,775.5 220.1,782.7 221.9,790.0 224.1,786.4 225.9,770.0 227.4,759.1 228.6,762.7 229.9,770.0 231.4,775.5 233.2,781.8 226.8,759.1 228.6,773.6 230.5,780.9 233.2,782.7 235.9,781.8 238.6,782.7 241.4,788.2 244.1,790.9 246.8,791.8 248.6,786.4 250.5,770.9 251.9,780.9 254.1,782.7 256.8,781.8 259.5,779.1 262.3,774.5 265.0,773.6 267.7,771.8 270.5,766.4 273.2,761.8 275.9,762.7 278.6,758.2 280.5,756.4 282.3,744.5 284.1,737.3 286.8,735.5 289.5,737.3 292.3,735.5 295.0,731.8 296.8,732.7 298.6,740.9 300.5,748.2 302.3,737.3 304.1,733.6 306.8,734.5 309.5,730.0 311.9,726.4 314.1,723.6 315.9,722.7 318.1,720.0 319.5,716.4 322.3,718.2 317.7,720.0 319.5,715.5 322.3,717.3 325.0,719.1 327.7,715.5 330.5,712.7 333.2,713.6 334.6,722.7 335.9,733.6 337.2,739.1 338.6,722.7 340.5,713.6 343.2,709.1 345.9,710.0 348.6,710.4 351.4,709.6 354.1,710.0 356.5,710.9 358.6,715.5 360.5,720.9 361.9,712.7 364.1,709.1 366.8,707.3 369.5,706.4 373.2,705.5 376.8,704.2 380.5,703.6 384.1,703.6 387.7,703.6 391.4,703.1 395.0,704.2 397.7,706.4 400.5,704.2 404.1,704.5 407.7,704.9 411.4,704.5 419.1,704.2 422.7,705.5 426.4,705.5 430.0,706.0 433.6,706.0 437.3,706.7 440.9,707.3 444.5,707.8 448.2,708.2 451.8,708.2 455.5,709.1 459.1,710.0 462.7,709.6 466.4,709.1 470.0,708.5 473.6,708.2 477.3,708.5 481.8,708.2" fill="none" stroke="#f89c2c" stroke-width="1.3" stroke-linejoin="round"/>
<path d="M47.5,697.2 V838.5 M47.5,838.5 H481.5" stroke="#000" stroke-width="1.3" fill="none"/>
<path d="M81.20,838.5 v6 M168.40,838.5 v6 M255.60,838.5 v6 M342.80,838.5 v6 M430.00,838.5 v6 M124.80,838.5 v3.5 M212.00,838.5 v3.5 M299.20,838.5 v3.5 M386.40,838.5 v3.5 M473.60,838.5 v3.5 M47.5,835.20 h-6 M47.5,815.49 h-6 M47.5,795.78 h-6 M47.5,776.07 h-6 M47.5,756.36 h-6 M47.5,736.65 h-6 M47.5,716.94 h-6 M47.5,697.23 h-6 M47.5,825.35 h-3.5 M47.5,805.63 h-3.5 M47.5,785.93 h-3.5 M47.5,766.22 h-3.5 M47.5,746.50 h-3.5 M47.5,726.80 h-3.5 M47.5,707.09 h-3.5" stroke="#000" stroke-width="1.2" fill="none"/>
<text transform="translate(81.40,857.90) scale(1,1.1)" text-anchor="middle" font-size="12">150</text>
<text transform="translate(168.60,857.90) scale(1,1.1)" text-anchor="middle" font-size="12">200</text>
<text transform="translate(255.80,857.90) scale(1,1.1)" text-anchor="middle" font-size="12">250</text>
<text transform="translate(343.00,857.90) scale(1,1.1)" text-anchor="middle" font-size="12">300</text>
<text transform="translate(430.20,857.90) scale(1,1.1)" text-anchor="middle" font-size="12">350</text>
<text transform="translate(37.20,838.80) scale(1,1.1)" text-anchor="end" font-size="12">0</text>
<text transform="translate(37.20,819.09) scale(1,1.1)" text-anchor="end" font-size="12">10</text>
<text transform="translate(37.20,799.38) scale(1,1.1)" text-anchor="end" font-size="12">20</text>
<text transform="translate(37.20,779.67) scale(1,1.1)" text-anchor="end" font-size="12">30</text>
<text transform="translate(37.20,759.96) scale(1,1.1)" text-anchor="end" font-size="12">40</text>
<text transform="translate(37.20,740.25) scale(1,1.1)" text-anchor="end" font-size="12">50</text>
<text transform="translate(37.20,720.54) scale(1,1.1)" text-anchor="end" font-size="12">60</text>
<text transform="translate(37.20,700.83) scale(1,1.1)" text-anchor="end" font-size="12">70</text>
<rect x="420.6" y="792.6" width="108.79999999999995" height="37.299999999999955" fill="#fff" stroke="#b4b4b4" stroke-width="1.3"/>
<path d="M423,802 H454.4" stroke="#1e90d2" stroke-width="1.5"/>
<path d="M423,820 H454.4" stroke="#fbb36a" stroke-width="1.6"/>
<text transform="translate(459.60,806.90) scale(1,0.935)" font-size="14.3">Real Value</text>
<text transform="translate(459.60,824.60) scale(1,0.935)" font-size="14.3">MSGSGCN</text>
<text transform="translate(19,767) rotate(-90)" text-anchor="middle" font-size="15">Speed(miles/h)</text>
<text transform="translate(253.90,876.90) scale(1,0.937)" text-anchor="middle" font-size="15">Time step (5 min)</text>
<text transform="translate(262.30,907.70) scale(1,1.02)" text-anchor="middle" font-size="16.3">(<tspan font-weight="bold">b</tspan>)</text>
</svg>
</body></html>
